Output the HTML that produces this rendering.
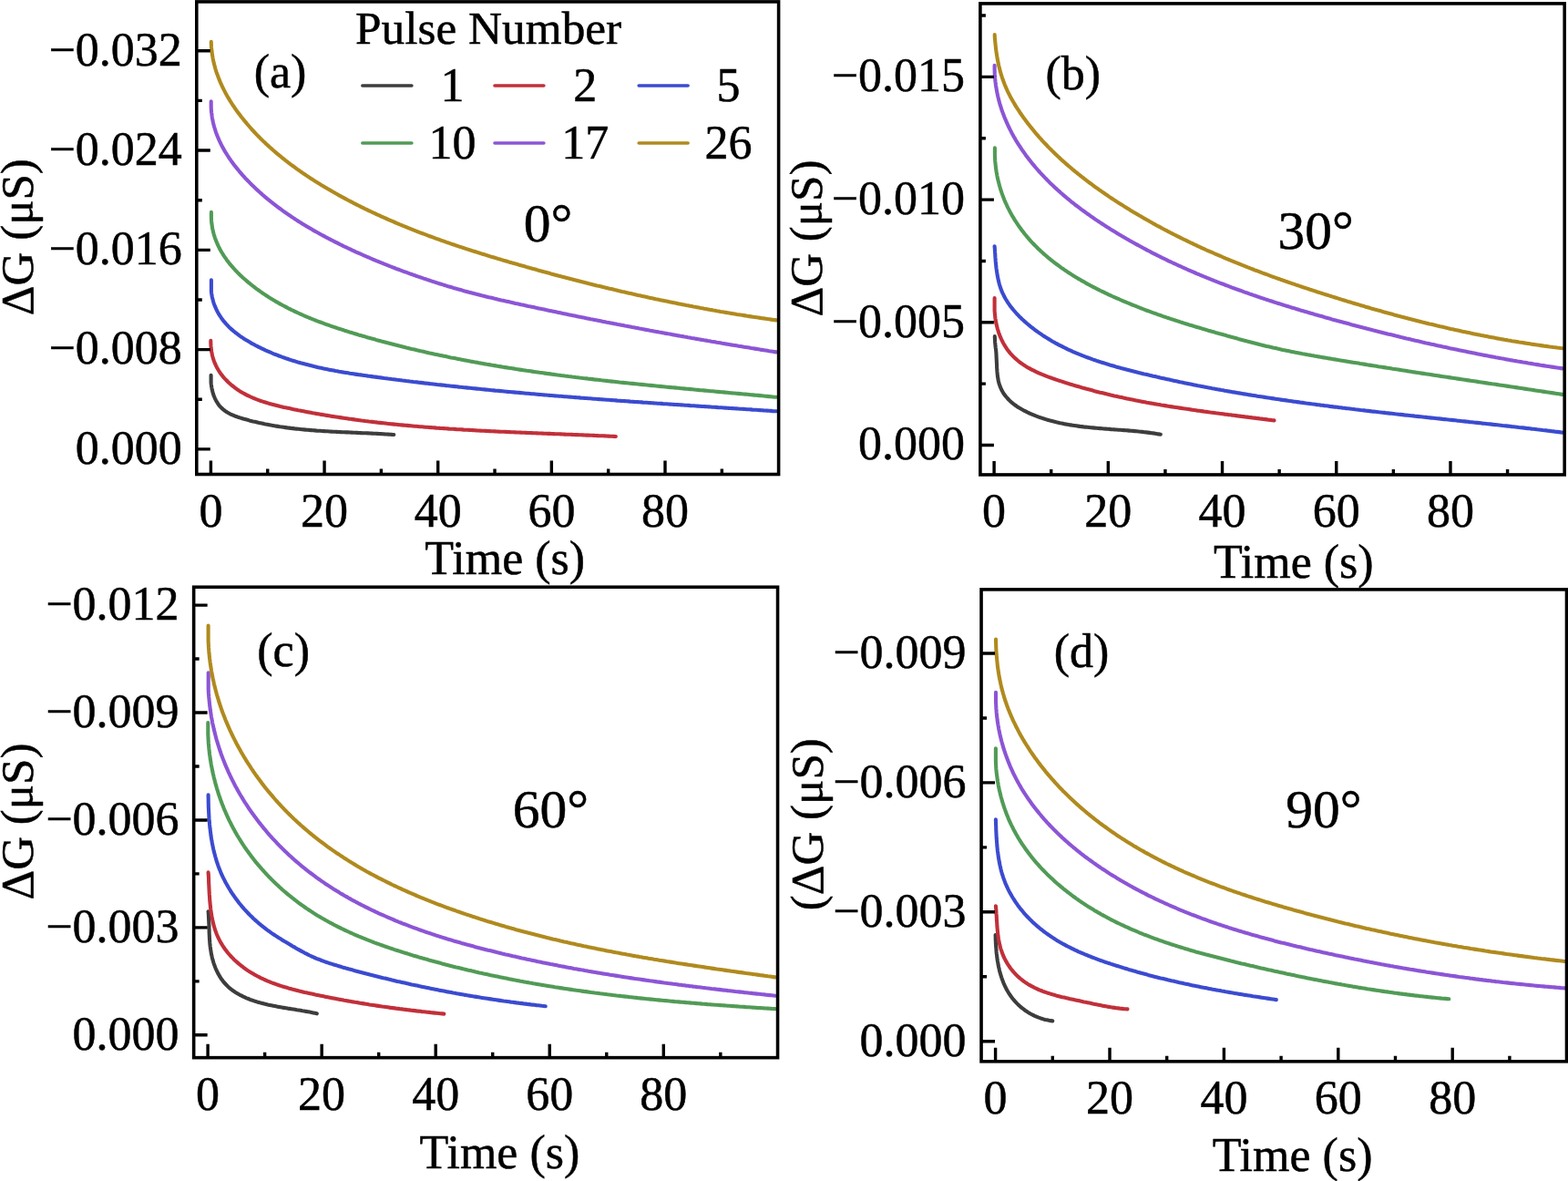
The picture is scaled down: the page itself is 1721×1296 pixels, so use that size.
<!DOCTYPE html><html><head><meta charset="utf-8"><title>Figure</title>
<style>html,body{margin:0;padding:0;background:#fff;overflow:hidden;}svg{display:block;} text{stroke:#000;stroke-width:0.5px;}</style></head><body>
<svg width="1721" height="1296" viewBox="0 0 1721 1296" font-family='"Liberation Serif", serif' fill="#000">
<rect x="0" y="0" width="1721" height="1296" fill="#fff"/>
<path d="M231.6,411.7 L231.6,413.7 L231.6,415.7 L231.6,417.8 L231.6,419.8 L231.8,421.8 L232.1,423.8 L232.4,425.8 L232.8,427.8 L233.3,429.7 L233.8,431.7 L234.4,433.6 L235.2,435.5 L236.0,437.3 L236.9,439.2 L237.9,440.9 L239.0,442.6 L240.1,444.3 L241.4,445.8 L242.8,447.3 L244.2,448.7 L245.8,450.0 L247.4,451.2 L249.1,452.3 L250.8,453.3 L252.6,454.3 L254.5,455.1 L256.3,455.9 L258.2,456.7 L260.1,457.3 L262.0,458.0 L264.0,458.6 L265.9,459.2 L267.8,459.8 L269.8,460.3 L271.7,460.8 L273.7,461.4 L275.6,461.9 L277.6,462.4 L279.6,462.8 L281.5,463.3 L283.5,463.8 L285.5,464.2 L287.4,464.6 L289.4,465.1 L291.4,465.5 L293.4,465.8 L295.4,466.2 L297.4,466.6 L299.3,466.9 L301.3,467.3 L303.3,467.6 L305.3,467.9 L307.3,468.3 L309.3,468.5 L311.3,468.8 L313.3,469.1 L315.3,469.4 L317.3,469.6 L319.3,469.9 L321.4,470.1 L323.4,470.4 L325.4,470.6 L327.4,470.8 L329.4,471.0 L331.4,471.2 L333.4,471.4 L335.4,471.6 L337.4,471.8 L339.5,471.9 L341.5,472.1 L343.5,472.3 L345.5,472.4 L347.5,472.6 L349.5,472.7 L351.5,472.8 L353.6,473.0 L355.6,473.1 L357.6,473.2 L359.6,473.3 L361.6,473.5 L363.7,473.6 L365.7,473.7 L367.7,473.8 L369.7,473.9 L371.7,474.0 L373.7,474.1 L375.8,474.2 L377.8,474.3 L379.8,474.4 L381.8,474.4 L383.8,474.5 L385.9,474.6 L387.9,474.7 L389.9,474.8 L391.9,474.9 L393.9,475.0 L396.0,475.1 L398.0,475.2 L400.0,475.2 L402.0,475.3 L404.0,475.4 L406.1,475.5 L408.1,475.6 L410.1,475.7 L412.1,475.8 L414.1,475.9 L416.2,476.0 L418.2,476.1 L420.2,476.2 L422.2,476.4 L424.2,476.5 L426.2,476.6 L428.3,476.7 L430.3,476.9 L432.3,477.0" fill="none" stroke="#3d3d3d" stroke-width="4.1" stroke-linecap="round" stroke-linejoin="round"/>
<path d="M231.3,373.9 L231.3,375.9 L231.4,377.9 L231.5,379.9 L231.7,381.9 L231.9,383.9 L232.2,385.9 L232.6,387.9 L233.0,389.9 L233.5,391.8 L234.1,393.8 L234.7,395.7 L235.4,397.5 L236.2,399.4 L237.0,401.2 L237.9,403.0 L238.9,404.8 L239.9,406.5 L241.0,408.2 L242.2,409.9 L243.4,411.5 L244.6,413.1 L245.9,414.6 L247.3,416.1 L248.7,417.5 L250.1,419.0 L251.5,420.3 L253.1,421.7 L254.6,423.0 L256.2,424.2 L257.8,425.5 L259.4,426.6 L261.0,427.8 L262.7,428.9 L264.4,429.9 L266.2,431.0 L267.9,431.9 L269.7,432.9 L271.5,433.8 L273.3,434.7 L275.1,435.5 L277.0,436.3 L278.8,437.1 L280.7,437.9 L282.6,438.6 L284.5,439.3 L286.4,440.0 L288.3,440.6 L290.2,441.2 L292.1,441.8 L294.0,442.4 L296.0,443.0 L297.9,443.5 L299.8,444.0 L301.8,444.5 L303.7,445.0 L305.7,445.5 L307.7,446.0 L309.6,446.4 L311.6,446.9 L313.5,447.3 L315.5,447.7 L317.5,448.1 L319.4,448.5 L321.4,449.0 L323.4,449.4 L325.4,449.8 L327.3,450.2 L329.3,450.5 L331.3,450.9 L333.3,451.3 L335.2,451.7 L337.2,452.1 L339.2,452.4 L341.2,452.8 L343.2,453.2 L345.1,453.5 L347.1,453.9 L349.1,454.2 L351.1,454.6 L353.1,454.9 L355.0,455.2 L357.0,455.6 L359.0,455.9 L361.0,456.2 L363.0,456.6 L365.0,456.9 L367.0,457.2 L368.9,457.5 L370.9,457.8 L372.9,458.1 L374.9,458.4 L376.9,458.7 L378.9,459.0 L380.9,459.3 L382.9,459.6 L384.9,459.8 L386.9,460.1 L388.9,460.4 L390.9,460.7 L392.9,460.9 L394.8,461.2 L396.8,461.5 L398.8,461.7 L400.8,462.0 L402.8,462.2 L404.8,462.5 L406.8,462.7 L408.8,462.9 L410.8,463.2 L412.8,463.4 L414.8,463.7 L416.8,463.9 L418.8,464.1 L420.8,464.3 L422.8,464.5 L424.8,464.8 L426.8,465.0 L428.8,465.2 L430.8,465.4 L432.8,465.6 L434.8,465.8 L436.8,466.0 L438.8,466.2 L440.8,466.4 L442.8,466.6 L444.8,466.8 L446.8,466.9 L448.8,467.1 L450.9,467.3 L452.9,467.5 L454.9,467.7 L456.9,467.8 L458.9,468.0 L460.9,468.2 L462.9,468.3 L464.9,468.5 L466.9,468.7 L468.9,468.8 L470.9,469.0 L472.9,469.1 L474.9,469.3 L476.9,469.4 L478.9,469.6 L480.9,469.7 L482.9,469.9 L485.0,470.0 L487.0,470.1 L489.0,470.3 L491.0,470.4 L493.0,470.6 L495.0,470.7 L497.0,470.8 L499.0,470.9 L501.0,471.1 L503.0,471.2 L505.0,471.3 L507.0,471.4 L509.1,471.6 L511.1,471.7 L513.1,471.8 L515.1,471.9 L517.1,472.0 L519.1,472.1 L521.1,472.2 L523.1,472.4 L525.1,472.5 L527.1,472.6 L529.1,472.7 L531.2,472.8 L533.2,472.9 L535.2,473.0 L537.2,473.1 L539.2,473.2 L541.2,473.3 L543.2,473.4 L545.2,473.5 L547.2,473.6 L549.2,473.7 L551.3,473.7 L553.3,473.8 L555.3,473.9 L557.3,474.0 L559.3,474.1 L561.3,474.2 L563.3,474.3 L565.3,474.4 L567.3,474.5 L569.3,474.5 L571.4,474.6 L573.4,474.7 L575.4,474.8 L577.4,474.9 L579.4,475.0 L581.4,475.0 L583.4,475.1 L585.4,475.2 L587.4,475.3 L589.5,475.4 L591.5,475.5 L593.5,475.5 L595.5,475.6 L597.5,475.7 L599.5,475.8 L601.5,475.9 L603.5,475.9 L605.5,476.0 L607.6,476.1 L609.6,476.2 L611.6,476.3 L613.6,476.3 L615.6,476.4 L617.6,476.5 L619.6,476.6 L621.6,476.7 L623.6,476.7 L625.6,476.8 L627.7,476.9 L629.7,477.0 L631.7,477.1 L633.7,477.1 L635.7,477.2 L637.7,477.3 L639.7,477.4 L641.7,477.5 L643.7,477.6 L645.8,477.6 L647.8,477.7 L649.8,477.8 L651.8,477.9 L653.8,478.0 L655.8,478.1 L657.8,478.2 L659.8,478.3 L661.8,478.3 L663.8,478.4 L665.9,478.5 L667.9,478.6 L669.9,478.7 L671.9,478.8 L673.9,478.9 L675.9,479.0" fill="none" stroke="#c1303a" stroke-width="4.1" stroke-linecap="round" stroke-linejoin="round"/>
<path d="M231.9,307.4 L231.9,309.4 L231.9,311.4 L231.9,313.4 L231.9,315.4 L231.9,317.4 L231.9,319.5 L232.1,321.5 L232.4,323.4 L232.7,325.4 L233.2,327.4 L233.7,329.3 L234.2,331.3 L234.8,333.2 L235.5,335.1 L236.3,336.9 L237.1,338.8 L237.9,340.6 L238.9,342.4 L239.8,344.1 L240.9,345.8 L242.0,347.5 L243.1,349.2 L244.3,350.8 L245.5,352.4 L246.8,353.9 L248.1,355.4 L249.5,356.9 L250.9,358.4 L252.3,359.8 L253.8,361.1 L255.3,362.4 L256.8,363.7 L258.4,365.0 L260.0,366.2 L261.6,367.4 L263.2,368.6 L264.9,369.8 L266.6,370.9 L268.2,372.0 L269.9,373.0 L271.7,374.1 L273.4,375.1 L275.1,376.1 L276.9,377.1 L278.7,378.0 L280.4,379.0 L282.2,379.9 L284.0,380.8 L285.8,381.7 L287.6,382.6 L289.4,383.4 L291.3,384.3 L293.1,385.1 L294.9,385.9 L296.8,386.7 L298.6,387.5 L300.5,388.3 L302.3,389.0 L304.2,389.7 L306.1,390.5 L308.0,391.2 L309.9,391.9 L311.7,392.5 L313.6,393.2 L315.5,393.8 L317.5,394.5 L319.4,395.1 L321.3,395.7 L323.2,396.3 L325.1,396.9 L327.0,397.5 L329.0,398.0 L330.9,398.6 L332.8,399.1 L334.8,399.6 L336.7,400.1 L338.7,400.6 L340.6,401.1 L342.6,401.6 L344.5,402.1 L346.5,402.5 L348.4,403.0 L350.4,403.4 L352.4,403.8 L354.3,404.3 L356.3,404.7 L358.3,405.1 L360.2,405.5 L362.2,405.9 L364.2,406.2 L366.2,406.6 L368.1,407.0 L370.1,407.3 L372.1,407.7 L374.1,408.0 L376.0,408.4 L378.0,408.7 L380.0,409.0 L382.0,409.3 L384.0,409.7 L386.0,410.0 L387.9,410.3 L389.9,410.6 L391.9,410.9 L393.9,411.2 L395.9,411.4 L397.9,411.7 L399.9,412.0 L401.9,412.3 L403.9,412.6 L405.8,412.8 L407.8,413.1 L409.8,413.4 L411.8,413.6 L413.8,413.9 L415.8,414.2 L417.8,414.4 L419.8,414.7 L421.8,415.0 L423.8,415.2 L425.8,415.5 L427.8,415.7 L429.7,416.0 L431.7,416.2 L433.7,416.5 L435.7,416.8 L437.7,417.0 L439.7,417.2 L441.7,417.5 L443.7,417.7 L445.7,418.0 L447.7,418.2 L449.7,418.5 L451.7,418.7 L453.7,419.0 L455.7,419.2 L457.7,419.4 L459.7,419.7 L461.7,419.9 L463.6,420.1 L465.6,420.4 L467.6,420.6 L469.6,420.8 L471.6,421.1 L473.6,421.3 L475.6,421.5 L477.6,421.7 L479.6,422.0 L481.6,422.2 L483.6,422.4 L485.6,422.6 L487.6,422.8 L489.6,423.1 L491.6,423.3 L493.6,423.5 L495.6,423.7 L497.6,423.9 L499.6,424.1 L501.6,424.3 L503.6,424.6 L505.6,424.8 L507.6,425.0 L509.6,425.2 L511.6,425.4 L513.6,425.6 L515.6,425.8 L517.6,426.0 L519.6,426.2 L521.6,426.4 L523.6,426.6 L525.6,426.8 L527.6,427.0 L529.6,427.2 L531.6,427.4 L533.6,427.6 L535.6,427.8 L537.6,428.0 L539.6,428.2 L541.6,428.4 L543.6,428.6 L545.6,428.7 L547.6,428.9 L549.6,429.1 L551.6,429.3 L553.6,429.5 L555.6,429.7 L557.6,429.9 L559.6,430.0 L561.6,430.2 L563.6,430.4 L565.6,430.6 L567.6,430.8 L569.6,430.9 L571.6,431.1 L573.6,431.3 L575.6,431.5 L577.6,431.7 L579.6,431.8 L581.6,432.0 L583.6,432.2 L585.6,432.3 L587.6,432.5 L589.6,432.7 L591.6,432.9 L593.6,433.0 L595.6,433.2 L597.6,433.4 L599.6,433.5 L601.6,433.7 L603.6,433.9 L605.6,434.0 L607.6,434.2 L609.6,434.4 L611.6,434.5 L613.6,434.7 L615.6,434.8 L617.6,435.0 L619.6,435.2 L621.6,435.3 L623.6,435.5 L625.6,435.6 L627.6,435.8 L629.6,436.0 L631.6,436.1 L633.6,436.3 L635.6,436.4 L637.6,436.6 L639.6,436.7 L641.7,436.9 L643.7,437.0 L645.7,437.2 L647.7,437.3 L649.7,437.5 L651.7,437.7 L653.7,437.8 L655.7,438.0 L657.7,438.1 L659.7,438.2 L661.7,438.4 L663.7,438.5 L665.7,438.7 L667.7,438.8 L669.7,439.0 L671.7,439.1 L673.7,439.3 L675.7,439.4 L677.7,439.6 L679.7,439.7 L681.7,439.9 L683.7,440.0 L685.7,440.1 L687.7,440.3 L689.7,440.4 L691.7,440.6 L693.7,440.7 L695.7,440.9 L697.8,441.0 L699.8,441.1 L701.8,441.3 L703.8,441.4 L705.8,441.6 L707.8,441.7 L709.8,441.8 L711.8,442.0 L713.8,442.1 L715.8,442.2 L717.8,442.4 L719.8,442.5 L721.8,442.7 L723.8,442.8 L725.8,442.9 L727.8,443.1 L729.8,443.2 L731.8,443.3 L733.8,443.5 L735.8,443.6 L737.8,443.7 L739.8,443.9 L741.8,444.0 L743.9,444.1 L745.9,444.3 L747.9,444.4 L749.9,444.5 L751.9,444.7 L753.9,444.8 L755.9,444.9 L757.9,445.1 L759.9,445.2 L761.9,445.3 L763.9,445.5 L765.9,445.6 L767.9,445.7 L769.9,445.9 L771.9,446.0 L773.9,446.1 L775.9,446.3 L777.9,446.4 L779.9,446.5 L781.9,446.7 L783.9,446.8 L786.0,446.9 L788.0,447.1 L790.0,447.2 L792.0,447.3 L794.0,447.5 L796.0,447.6 L798.0,447.7 L800.0,447.9 L802.0,448.0 L804.0,448.1 L806.0,448.3 L808.0,448.4 L810.0,448.5 L812.0,448.7 L814.0,448.8 L816.0,448.9 L818.0,449.0 L820.0,449.2 L822.0,449.3 L824.0,449.4 L826.0,449.6 L828.0,449.7 L830.1,449.8 L832.1,450.0 L834.1,450.1 L836.1,450.2 L838.1,450.4 L840.1,450.5 L842.1,450.6 L844.1,450.8 L846.1,450.9 L848.1,451.1 L850.1,451.2 L852.1,451.3" fill="none" stroke="#3b4bd0" stroke-width="4.1" stroke-linecap="round" stroke-linejoin="round"/>
<path d="M231.9,232.9 L231.9,234.9 L231.9,236.9 L231.9,238.9 L232.0,240.9 L232.1,242.9 L232.3,244.9 L232.6,246.9 L232.9,248.9 L233.2,250.9 L233.7,252.9 L234.1,254.8 L234.6,256.8 L235.2,258.7 L235.8,260.6 L236.5,262.5 L237.2,264.4 L238.0,266.3 L238.8,268.1 L239.6,269.9 L240.5,271.7 L241.4,273.5 L242.4,275.3 L243.4,277.0 L244.5,278.7 L245.5,280.4 L246.7,282.1 L247.8,283.7 L249.0,285.4 L250.2,287.0 L251.4,288.6 L252.7,290.1 L254.0,291.7 L255.3,293.2 L256.6,294.7 L258.0,296.2 L259.4,297.6 L260.8,299.1 L262.2,300.5 L263.6,301.9 L265.1,303.3 L266.6,304.7 L268.1,306.0 L269.6,307.3 L271.1,308.6 L272.6,309.9 L274.2,311.2 L275.8,312.5 L277.3,313.7 L278.9,314.9 L280.5,316.2 L282.1,317.4 L283.8,318.5 L285.4,319.7 L287.1,320.9 L288.7,322.0 L290.4,323.1 L292.1,324.2 L293.7,325.3 L295.4,326.4 L297.1,327.5 L298.9,328.5 L300.6,329.6 L302.3,330.6 L304.1,331.6 L305.8,332.6 L307.6,333.6 L309.3,334.5 L311.1,335.5 L312.9,336.4 L314.7,337.4 L316.4,338.3 L318.2,339.2 L320.0,340.1 L321.9,340.9 L323.7,341.8 L325.5,342.7 L327.3,343.5 L329.1,344.3 L331.0,345.2 L332.8,346.0 L334.7,346.8 L336.5,347.6 L338.4,348.3 L340.2,349.1 L342.1,349.9 L344.0,350.6 L345.8,351.3 L347.7,352.1 L349.6,352.8 L351.5,353.5 L353.4,354.2 L355.2,354.9 L357.1,355.6 L359.0,356.3 L360.9,356.9 L362.8,357.6 L364.7,358.3 L366.6,358.9 L368.5,359.5 L370.4,360.2 L372.3,360.8 L374.3,361.4 L376.2,362.0 L378.1,362.7 L380.0,363.3 L381.9,363.9 L383.8,364.5 L385.8,365.0 L387.7,365.6 L389.6,366.2 L391.5,366.8 L393.5,367.4 L395.4,367.9 L397.3,368.5 L399.3,369.1 L401.2,369.6 L403.1,370.2 L405.1,370.7 L407.0,371.3 L408.9,371.8 L410.9,372.3 L412.8,372.9 L414.7,373.4 L416.7,373.9 L418.6,374.5 L420.6,375.0 L422.5,375.5 L424.5,376.0 L426.4,376.5 L428.3,377.0 L430.3,377.5 L432.2,378.0 L434.2,378.5 L436.1,379.0 L438.1,379.5 L440.0,380.0 L442.0,380.5 L443.9,381.0 L445.9,381.5 L447.9,381.9 L449.8,382.4 L451.8,382.9 L453.7,383.3 L455.7,383.8 L457.6,384.3 L459.6,384.7 L461.6,385.2 L463.5,385.6 L465.5,386.0 L467.4,386.5 L469.4,386.9 L471.4,387.4 L473.3,387.8 L475.3,388.2 L477.3,388.7 L479.2,389.1 L481.2,389.5 L483.2,389.9 L485.1,390.3 L487.1,390.7 L489.1,391.1 L491.0,391.5 L493.0,392.0 L495.0,392.4 L496.9,392.7 L498.9,393.1 L500.9,393.5 L502.9,393.9 L504.8,394.3 L506.8,394.7 L508.8,395.1 L510.8,395.4 L512.7,395.8 L514.7,396.2 L516.7,396.6 L518.7,396.9 L520.6,397.3 L522.6,397.6 L524.6,398.0 L526.6,398.4 L528.6,398.7 L530.5,399.1 L532.5,399.4 L534.5,399.8 L536.5,400.1 L538.5,400.4 L540.4,400.8 L542.4,401.1 L544.4,401.4 L546.4,401.8 L548.4,402.1 L550.4,402.4 L552.3,402.8 L554.3,403.1 L556.3,403.4 L558.3,403.7 L560.3,404.0 L562.3,404.3 L564.3,404.6 L566.3,405.0 L568.2,405.3 L570.2,405.6 L572.2,405.9 L574.2,406.2 L576.2,406.5 L578.2,406.8 L580.2,407.0 L582.2,407.3 L584.2,407.6 L586.1,407.9 L588.1,408.2 L590.1,408.5 L592.1,408.8 L594.1,409.0 L596.1,409.3 L598.1,409.6 L600.1,409.9 L602.1,410.1 L604.1,410.4 L606.1,410.7 L608.1,410.9 L610.0,411.2 L612.0,411.5 L614.0,411.7 L616.0,412.0 L618.0,412.2 L620.0,412.5 L622.0,412.7 L624.0,413.0 L626.0,413.2 L628.0,413.5 L630.0,413.7 L632.0,414.0 L634.0,414.2 L636.0,414.5 L638.0,414.7 L640.0,415.0 L642.0,415.2 L644.0,415.4 L646.0,415.7 L648.0,415.9 L650.0,416.1 L652.0,416.4 L654.0,416.6 L656.0,416.8 L658.0,417.0 L660.0,417.3 L662.0,417.5 L663.9,417.7 L665.9,417.9 L667.9,418.2 L669.9,418.4 L671.9,418.6 L673.9,418.8 L675.9,419.0 L677.9,419.2 L679.9,419.5 L681.9,419.7 L683.9,419.9 L685.9,420.1 L687.9,420.3 L689.9,420.5 L691.9,420.7 L693.9,420.9 L695.9,421.1 L697.9,421.3 L699.9,421.5 L701.9,421.7 L703.9,421.9 L705.9,422.1 L707.9,422.3 L709.9,422.5 L711.9,422.7 L713.9,422.9 L716.0,423.1 L718.0,423.3 L720.0,423.5 L722.0,423.7 L724.0,423.9 L726.0,424.1 L728.0,424.3 L730.0,424.5 L732.0,424.7 L734.0,424.9 L736.0,425.1 L738.0,425.3 L740.0,425.4 L742.0,425.6 L744.0,425.8 L746.0,426.0 L748.0,426.2 L750.0,426.4 L752.0,426.6 L754.0,426.8 L756.0,426.9 L758.0,427.1 L760.0,427.3 L762.0,427.5 L764.0,427.7 L766.0,427.9 L768.0,428.1 L770.0,428.2 L772.0,428.4 L774.0,428.6 L776.0,428.8 L778.0,429.0 L780.0,429.2 L782.0,429.3 L784.0,429.5 L786.0,429.7 L788.0,429.9 L790.0,430.1 L792.0,430.3 L794.0,430.4 L796.0,430.6 L798.0,430.8 L800.0,431.0 L802.0,431.2 L804.0,431.4 L806.0,431.5 L808.1,431.7 L810.1,431.9 L812.1,432.1 L814.1,432.3 L816.1,432.5 L818.1,432.6 L820.1,432.8 L822.1,433.0 L824.1,433.2 L826.1,433.4 L828.1,433.6 L830.1,433.8 L832.1,433.9 L834.1,434.1 L836.1,434.3 L838.1,434.5 L840.1,434.7 L842.1,434.9 L844.1,435.1 L846.1,435.3 L848.1,435.5 L850.1,435.7 L852.1,435.8" fill="none" stroke="#519b56" stroke-width="4.1" stroke-linecap="round" stroke-linejoin="round"/>
<path d="M231.7,111.3 L231.7,113.3 L231.7,115.3 L231.7,117.3 L231.8,119.3 L231.9,121.3 L232.1,123.3 L232.4,125.3 L232.6,127.3 L232.9,129.3 L233.3,131.3 L233.7,133.3 L234.1,135.2 L234.6,137.2 L235.1,139.1 L235.7,141.0 L236.3,142.9 L236.9,144.9 L237.6,146.7 L238.3,148.6 L239.1,150.5 L239.9,152.3 L240.7,154.2 L241.5,156.0 L242.4,157.8 L243.3,159.6 L244.2,161.4 L245.2,163.1 L246.2,164.9 L247.2,166.6 L248.3,168.3 L249.3,170.0 L250.4,171.7 L251.5,173.4 L252.7,175.0 L253.8,176.7 L255.0,178.3 L256.2,179.9 L257.4,181.5 L258.7,183.1 L259.9,184.7 L261.2,186.2 L262.5,187.8 L263.8,189.3 L265.1,190.8 L266.4,192.3 L267.8,193.8 L269.1,195.3 L270.5,196.8 L271.9,198.2 L273.3,199.6 L274.7,201.1 L276.1,202.5 L277.6,203.9 L279.0,205.3 L280.5,206.7 L281.9,208.1 L283.4,209.4 L284.9,210.8 L286.4,212.1 L287.9,213.5 L289.4,214.8 L290.9,216.1 L292.5,217.4 L294.0,218.7 L295.6,219.9 L297.1,221.2 L298.7,222.4 L300.3,223.7 L301.9,224.9 L303.5,226.1 L305.1,227.3 L306.7,228.5 L308.3,229.7 L309.9,230.9 L311.6,232.1 L313.2,233.2 L314.8,234.4 L316.5,235.5 L318.2,236.7 L319.8,237.8 L321.5,238.9 L323.2,240.0 L324.9,241.1 L326.6,242.2 L328.2,243.3 L329.9,244.3 L331.7,245.4 L333.4,246.4 L335.1,247.5 L336.8,248.5 L338.5,249.5 L340.3,250.6 L342.0,251.6 L343.7,252.6 L345.5,253.6 L347.2,254.5 L349.0,255.5 L350.8,256.5 L352.5,257.5 L354.3,258.4 L356.1,259.4 L357.8,260.3 L359.6,261.2 L361.4,262.2 L363.2,263.1 L365.0,264.0 L366.7,264.9 L368.5,265.8 L370.3,266.7 L372.1,267.6 L373.9,268.5 L375.7,269.4 L377.5,270.3 L379.4,271.1 L381.2,272.0 L383.0,272.9 L384.8,273.7 L386.6,274.6 L388.4,275.4 L390.3,276.3 L392.1,277.1 L393.9,277.9 L395.8,278.7 L397.6,279.5 L399.4,280.4 L401.3,281.2 L403.1,282.0 L405.0,282.7 L406.8,283.5 L408.7,284.3 L410.5,285.1 L412.4,285.9 L414.2,286.6 L416.1,287.4 L418.0,288.2 L419.8,288.9 L421.7,289.7 L423.5,290.4 L425.4,291.1 L427.3,291.9 L429.2,292.6 L431.0,293.3 L432.9,294.0 L434.8,294.8 L436.7,295.5 L438.5,296.2 L440.4,296.9 L442.3,297.6 L444.2,298.3 L446.1,298.9 L448.0,299.6 L449.9,300.3 L451.8,301.0 L453.7,301.7 L455.6,302.3 L457.4,303.0 L459.3,303.6 L461.2,304.3 L463.1,304.9 L465.0,305.6 L467.0,306.2 L468.9,306.9 L470.8,307.5 L472.7,308.1 L474.6,308.8 L476.5,309.4 L478.4,310.0 L480.3,310.6 L482.2,311.2 L484.1,311.8 L486.1,312.4 L488.0,313.0 L489.9,313.6 L491.8,314.2 L493.8,314.7 L495.7,315.3 L497.6,315.9 L499.5,316.4 L501.5,317.0 L503.4,317.6 L505.3,318.1 L507.3,318.6 L509.2,319.2 L511.1,319.7 L513.1,320.2 L515.0,320.8 L517.0,321.3 L518.9,321.8 L520.8,322.3 L522.8,322.8 L524.7,323.3 L526.7,323.8 L528.6,324.3 L530.6,324.7 L532.5,325.2 L534.5,325.7 L536.4,326.2 L538.4,326.6 L540.4,327.1 L542.3,327.6 L544.3,328.0 L546.2,328.5 L548.2,328.9 L550.1,329.4 L552.1,329.8 L554.1,330.3 L556.0,330.7 L558.0,331.1 L559.9,331.6 L561.9,332.0 L563.9,332.4 L565.8,332.9 L567.8,333.3 L569.7,333.7 L571.7,334.2 L573.7,334.6 L575.6,335.0 L577.6,335.4 L579.6,335.9 L581.5,336.3 L583.5,336.7 L585.5,337.1 L587.4,337.6 L589.4,338.0 L591.3,338.4 L593.3,338.8 L595.3,339.2 L597.2,339.6 L599.2,340.1 L601.2,340.5 L603.1,340.9 L605.1,341.3 L607.1,341.7 L609.0,342.1 L611.0,342.5 L613.0,342.9 L614.9,343.3 L616.9,343.8 L618.9,344.2 L620.8,344.6 L622.8,345.0 L624.8,345.4 L626.7,345.8 L628.7,346.2 L630.7,346.6 L632.6,347.0 L634.6,347.4 L636.6,347.8 L638.6,348.2 L640.5,348.6 L642.5,349.0 L644.5,349.4 L646.4,349.8 L648.4,350.2 L650.4,350.5 L652.3,350.9 L654.3,351.3 L656.3,351.7 L658.3,352.1 L660.2,352.5 L662.2,352.9 L664.2,353.3 L666.1,353.7 L668.1,354.0 L670.1,354.4 L672.1,354.8 L674.0,355.2 L676.0,355.6 L678.0,356.0 L679.9,356.3 L681.9,356.7 L683.9,357.1 L685.9,357.5 L687.8,357.8 L689.8,358.2 L691.8,358.6 L693.8,359.0 L695.7,359.3 L697.7,359.7 L699.7,360.1 L701.7,360.5 L703.6,360.8 L705.6,361.2 L707.6,361.6 L709.6,361.9 L711.5,362.3 L713.5,362.7 L715.5,363.0 L717.5,363.4 L719.4,363.8 L721.4,364.1 L723.4,364.5 L725.4,364.8 L727.3,365.2 L729.3,365.6 L731.3,365.9 L733.3,366.3 L735.2,366.6 L737.2,367.0 L739.2,367.4 L741.2,367.7 L743.1,368.1 L745.1,368.4 L747.1,368.8 L749.1,369.1 L751.1,369.5 L753.0,369.8 L755.0,370.2 L757.0,370.5 L759.0,370.9 L760.9,371.2 L762.9,371.6 L764.9,371.9 L766.9,372.3 L768.9,372.6 L770.8,372.9 L772.8,373.3 L774.8,373.6 L776.8,374.0 L778.8,374.3 L780.7,374.7 L782.7,375.0 L784.7,375.3 L786.7,375.7 L788.7,376.0 L790.6,376.3 L792.6,376.7 L794.6,377.0 L796.6,377.4 L798.6,377.7 L800.5,378.0 L802.5,378.4 L804.5,378.7 L806.5,379.0 L808.5,379.3 L810.5,379.7 L812.4,380.0 L814.4,380.3 L816.4,380.7 L818.4,381.0 L820.4,381.3 L822.3,381.6 L824.3,382.0 L826.3,382.3 L828.3,382.6 L830.3,382.9 L832.3,383.2 L834.2,383.6 L836.2,383.9 L838.2,384.2 L840.2,384.5 L842.2,384.8 L844.2,385.2 L846.1,385.5 L848.1,385.8 L850.1,386.1 L852.1,386.4" fill="none" stroke="#8c55d6" stroke-width="4.1" stroke-linecap="round" stroke-linejoin="round"/>
<path d="M231.8,45.9 L231.8,47.9 L231.9,49.9 L232.0,51.9 L232.2,53.9 L232.4,55.9 L232.7,57.9 L232.9,59.9 L233.3,61.9 L233.6,63.8 L234.0,65.8 L234.4,67.8 L234.9,69.7 L235.4,71.7 L235.9,73.6 L236.4,75.5 L237.0,77.4 L237.6,79.4 L238.3,81.3 L239.0,83.1 L239.7,85.0 L240.4,86.9 L241.2,88.7 L241.9,90.6 L242.8,92.4 L243.6,94.2 L244.5,96.1 L245.4,97.9 L246.3,99.6 L247.2,101.4 L248.2,103.2 L249.1,104.9 L250.1,106.7 L251.2,108.4 L252.2,110.1 L253.3,111.8 L254.3,113.5 L255.4,115.2 L256.6,116.8 L257.7,118.5 L258.8,120.1 L260.0,121.8 L261.2,123.4 L262.4,125.0 L263.6,126.6 L264.8,128.2 L266.1,129.8 L267.3,131.3 L268.6,132.9 L269.9,134.4 L271.2,136.0 L272.5,137.5 L273.8,139.0 L275.1,140.5 L276.4,142.0 L277.8,143.5 L279.2,145.0 L280.5,146.4 L281.9,147.9 L283.3,149.3 L284.7,150.7 L286.1,152.2 L287.6,153.6 L289.0,155.0 L290.5,156.3 L291.9,157.7 L293.4,159.1 L294.9,160.4 L296.4,161.8 L297.9,163.1 L299.4,164.5 L300.9,165.8 L302.4,167.1 L303.9,168.4 L305.5,169.7 L307.0,170.9 L308.6,172.2 L310.1,173.5 L311.7,174.7 L313.3,176.0 L314.8,177.2 L316.4,178.4 L318.0,179.6 L319.6,180.8 L321.3,182.0 L322.9,183.2 L324.5,184.4 L326.1,185.6 L327.8,186.7 L329.4,187.9 L331.0,189.0 L332.7,190.2 L334.4,191.3 L336.0,192.4 L337.7,193.5 L339.4,194.6 L341.0,195.7 L342.7,196.8 L344.4,197.9 L346.1,199.0 L347.8,200.0 L349.5,201.1 L351.2,202.1 L352.9,203.2 L354.7,204.2 L356.4,205.3 L358.1,206.3 L359.8,207.3 L361.6,208.3 L363.3,209.3 L365.0,210.3 L366.8,211.3 L368.5,212.3 L370.3,213.3 L372.0,214.3 L373.8,215.2 L375.5,216.2 L377.3,217.1 L379.1,218.1 L380.8,219.0 L382.6,220.0 L384.4,220.9 L386.2,221.8 L387.9,222.8 L389.7,223.7 L391.5,224.6 L393.3,225.5 L395.1,226.4 L396.9,227.3 L398.7,228.2 L400.5,229.1 L402.3,229.9 L404.1,230.8 L405.9,231.7 L407.7,232.5 L409.5,233.4 L411.4,234.2 L413.2,235.1 L415.0,235.9 L416.8,236.7 L418.7,237.6 L420.5,238.4 L422.3,239.2 L424.2,240.0 L426.0,240.8 L427.8,241.6 L429.7,242.4 L431.5,243.2 L433.4,244.0 L435.2,244.8 L437.1,245.6 L438.9,246.4 L440.8,247.1 L442.6,247.9 L444.5,248.6 L446.3,249.4 L448.2,250.2 L450.0,250.9 L451.9,251.6 L453.8,252.4 L455.6,253.1 L457.5,253.8 L459.4,254.6 L461.3,255.3 L463.1,256.0 L465.0,256.7 L466.9,257.4 L468.8,258.1 L470.6,258.8 L472.5,259.5 L474.4,260.2 L476.3,260.9 L478.2,261.6 L480.1,262.3 L482.0,262.9 L483.8,263.6 L485.7,264.3 L487.6,264.9 L489.5,265.6 L491.4,266.3 L493.3,266.9 L495.2,267.6 L497.1,268.2 L499.0,268.8 L500.9,269.5 L502.8,270.1 L504.7,270.8 L506.6,271.4 L508.5,272.0 L510.4,272.6 L512.3,273.3 L514.2,273.9 L516.2,274.5 L518.1,275.1 L520.0,275.7 L521.9,276.3 L523.8,276.9 L525.7,277.5 L527.6,278.1 L529.5,278.7 L531.5,279.3 L533.4,279.9 L535.3,280.5 L537.2,281.1 L539.1,281.7 L541.1,282.2 L543.0,282.8 L544.9,283.4 L546.8,284.0 L548.7,284.5 L550.7,285.1 L552.6,285.7 L554.5,286.2 L556.4,286.8 L558.4,287.4 L560.3,287.9 L562.2,288.5 L564.1,289.0 L566.1,289.6 L568.0,290.1 L569.9,290.7 L571.9,291.3 L573.8,291.8 L575.7,292.3 L577.7,292.9 L579.6,293.4 L581.5,294.0 L583.4,294.5 L585.4,295.1 L587.3,295.6 L589.2,296.1 L591.2,296.7 L593.1,297.2 L595.0,297.7 L597.0,298.3 L598.9,298.8 L600.9,299.3 L602.8,299.8 L604.7,300.4 L606.7,300.9 L608.6,301.4 L610.5,301.9 L612.5,302.4 L614.4,302.9 L616.4,303.5 L618.3,304.0 L620.2,304.5 L622.2,305.0 L624.1,305.5 L626.1,306.0 L628.0,306.5 L629.9,307.0 L631.9,307.5 L633.8,308.0 L635.8,308.5 L637.7,309.0 L639.7,309.5 L641.6,310.0 L643.6,310.5 L645.5,311.0 L647.4,311.4 L649.4,311.9 L651.3,312.4 L653.3,312.9 L655.2,313.4 L657.2,313.8 L659.1,314.3 L661.1,314.8 L663.0,315.3 L665.0,315.7 L666.9,316.2 L668.9,316.7 L670.8,317.1 L672.8,317.6 L674.7,318.1 L676.7,318.5 L678.6,319.0 L680.6,319.4 L682.5,319.9 L684.5,320.3 L686.5,320.8 L688.4,321.2 L690.4,321.7 L692.3,322.1 L694.3,322.6 L696.2,323.0 L698.2,323.4 L700.2,323.9 L702.1,324.3 L704.1,324.8 L706.0,325.2 L708.0,325.6 L709.9,326.0 L711.9,326.5 L713.9,326.9 L715.8,327.3 L717.8,327.7 L719.8,328.2 L721.7,328.6 L723.7,329.0 L725.6,329.4 L727.6,329.8 L729.6,330.2 L731.5,330.6 L733.5,331.0 L735.5,331.4 L737.4,331.8 L739.4,332.2 L741.4,332.6 L743.3,333.0 L745.3,333.4 L747.3,333.8 L749.2,334.2 L751.2,334.6 L753.2,335.0 L755.1,335.3 L757.1,335.7 L759.1,336.1 L761.0,336.5 L763.0,336.8 L765.0,337.2 L767.0,337.6 L768.9,338.0 L770.9,338.3 L772.9,338.7 L774.9,339.0 L776.8,339.4 L778.8,339.8 L780.8,340.1 L782.7,340.5 L784.7,340.8 L786.7,341.2 L788.7,341.5 L790.7,341.9 L792.6,342.2 L794.6,342.5 L796.6,342.9 L798.6,343.2 L800.5,343.5 L802.5,343.9 L804.5,344.2 L806.5,344.5 L808.5,344.9 L810.4,345.2 L812.4,345.5 L814.4,345.8 L816.4,346.1 L818.4,346.4 L820.3,346.8 L822.3,347.1 L824.3,347.4 L826.3,347.7 L828.3,348.0 L830.3,348.3 L832.2,348.6 L834.2,348.9 L836.2,349.2 L838.2,349.4 L840.2,349.7 L842.2,350.0 L844.1,350.3 L846.1,350.6 L848.1,350.9 L850.1,351.1 L852.1,351.4" fill="none" stroke="#b08a1e" stroke-width="4.1" stroke-linecap="round" stroke-linejoin="round"/>
<path d="M231.40,520.50V505.50M293.73,520.50V514.50M356.05,520.50V505.50M418.38,520.50V514.50M480.70,520.50V505.50M543.02,520.50V514.50M605.35,520.50V505.50M667.67,520.50V514.50M730.00,520.50V505.50M792.32,520.50V514.50M215.80,492.90H230.80M215.80,383.62H230.80M215.80,274.34H230.80M215.80,165.06H230.80M215.80,55.78H230.80M215.80,438.26H221.80M215.80,328.98H221.80M215.80,219.70H221.80M215.80,110.42H221.80" stroke="#000" stroke-width="3.4" fill="none"/>
<rect x="215.8" y="1.9" width="638.80" height="518.60" fill="none" stroke="#000" stroke-width="3.6"/>
<text x="199.8" y="508.7" font-size="52" text-anchor="end">0.000</text>
<text x="199.8" y="399.4" font-size="52" text-anchor="end">−0.008</text>
<text x="199.8" y="290.1" font-size="52" text-anchor="end">−0.016</text>
<text x="199.8" y="180.9" font-size="52" text-anchor="end">−0.024</text>
<text x="199.8" y="71.6" font-size="52" text-anchor="end">−0.032</text>
<text x="231.4" y="577.5" font-size="52" text-anchor="middle">0</text>
<text x="356.1" y="577.5" font-size="52" text-anchor="middle">20</text>
<text x="480.7" y="577.5" font-size="52" text-anchor="middle">40</text>
<text x="605.4" y="577.5" font-size="52" text-anchor="middle">60</text>
<text x="730.0" y="577.5" font-size="52" text-anchor="middle">80</text>
<text x="466.3" y="630.1" font-size="52">Time (s)</text>
<text transform="translate(36.4,346.2) rotate(-90)" font-size="51">ΔG (μS)</text>
<text x="278.7" y="95.9" font-size="52">(a)</text>
<text x="574.8" y="265.1" font-size="59.5">0°</text>
<path d="M1091.8,369.1 L1091.9,371.1 L1092.0,373.1 L1092.1,375.2 L1092.3,377.2 L1092.5,379.2 L1092.7,381.2 L1093.0,383.2 L1093.2,385.2 L1093.4,387.2 L1093.5,389.2 L1093.6,391.3 L1093.7,393.3 L1093.8,395.3 L1093.9,397.3 L1094.0,399.3 L1094.1,401.4 L1094.1,403.4 L1094.3,405.4 L1094.4,407.4 L1094.6,409.4 L1094.8,411.4 L1095.0,413.4 L1095.4,415.4 L1095.7,417.4 L1096.2,419.4 L1096.7,421.4 L1097.4,423.3 L1098.1,425.2 L1098.9,427.0 L1099.8,428.8 L1100.8,430.6 L1101.9,432.3 L1103.1,433.9 L1104.4,435.5 L1105.7,437.0 L1107.1,438.5 L1108.5,439.9 L1110.0,441.3 L1111.6,442.6 L1113.2,443.8 L1114.8,445.0 L1116.4,446.2 L1118.1,447.3 L1119.9,448.3 L1121.6,449.3 L1123.4,450.3 L1125.2,451.2 L1127.0,452.1 L1128.8,453.0 L1130.7,453.8 L1132.5,454.6 L1134.4,455.4 L1136.3,456.2 L1138.1,456.9 L1140.0,457.6 L1142.0,458.3 L1143.9,458.9 L1145.8,459.5 L1147.7,460.1 L1149.7,460.7 L1151.6,461.3 L1153.5,461.8 L1155.5,462.3 L1157.5,462.8 L1159.4,463.3 L1161.4,463.7 L1163.4,464.2 L1165.4,464.6 L1167.3,465.0 L1169.3,465.4 L1171.3,465.7 L1173.3,466.1 L1175.3,466.4 L1177.3,466.7 L1179.3,467.0 L1181.3,467.3 L1183.3,467.6 L1185.3,467.9 L1187.3,468.1 L1189.3,468.4 L1191.3,468.6 L1193.3,468.8 L1195.3,469.0 L1197.4,469.2 L1199.4,469.4 L1201.4,469.6 L1203.4,469.8 L1205.4,470.0 L1207.4,470.1 L1209.4,470.3 L1211.5,470.5 L1213.5,470.6 L1215.5,470.8 L1217.5,470.9 L1219.5,471.1 L1221.5,471.2 L1223.6,471.4 L1225.6,471.5 L1227.6,471.7 L1229.6,471.8 L1231.6,472.0 L1233.6,472.1 L1235.7,472.3 L1237.7,472.4 L1239.7,472.6 L1241.7,472.8 L1243.7,472.9 L1245.7,473.1 L1247.7,473.3 L1249.7,473.5 L1251.8,473.7 L1253.8,473.9 L1255.8,474.2 L1257.8,474.4 L1259.8,474.6 L1261.8,474.9 L1263.8,475.2 L1265.8,475.4 L1267.8,475.7 L1269.8,476.1 L1271.8,476.4 L1273.8,476.7" fill="none" stroke="#3d3d3d" stroke-width="4.1" stroke-linecap="round" stroke-linejoin="round"/>
<path d="M1091.6,327.0 L1091.6,329.0 L1091.6,331.0 L1091.6,333.1 L1091.6,335.1 L1091.6,337.1 L1091.6,339.1 L1091.6,341.1 L1091.8,343.1 L1092.0,345.2 L1092.2,347.2 L1092.4,349.2 L1092.7,351.2 L1093.1,353.1 L1093.4,355.1 L1093.9,357.1 L1094.4,359.1 L1094.9,361.0 L1095.5,362.9 L1096.1,364.9 L1096.8,366.8 L1097.5,368.6 L1098.3,370.5 L1099.1,372.3 L1100.0,374.2 L1100.9,376.0 L1101.9,377.7 L1102.9,379.4 L1104.0,381.2 L1105.1,382.8 L1106.3,384.5 L1107.6,386.1 L1108.8,387.6 L1110.2,389.1 L1111.6,390.6 L1113.0,392.0 L1114.5,393.4 L1116.0,394.7 L1117.5,396.0 L1119.1,397.3 L1120.7,398.5 L1122.4,399.6 L1124.1,400.8 L1125.8,401.9 L1127.5,402.9 L1129.2,403.9 L1131.0,404.9 L1132.8,405.8 L1134.6,406.7 L1136.4,407.6 L1138.2,408.5 L1140.1,409.3 L1141.9,410.1 L1143.8,410.9 L1145.7,411.6 L1147.5,412.4 L1149.4,413.1 L1151.3,413.8 L1153.2,414.5 L1155.1,415.2 L1157.0,415.8 L1158.9,416.5 L1160.8,417.1 L1162.7,417.8 L1164.7,418.4 L1166.6,419.0 L1168.5,419.6 L1170.4,420.3 L1172.4,420.9 L1174.3,421.5 L1176.2,422.0 L1178.1,422.6 L1180.1,423.2 L1182.0,423.8 L1184.0,424.3 L1185.9,424.9 L1187.8,425.5 L1189.8,426.0 L1191.7,426.5 L1193.7,427.1 L1195.6,427.6 L1197.6,428.1 L1199.5,428.6 L1201.5,429.2 L1203.4,429.7 L1205.4,430.2 L1207.3,430.7 L1209.3,431.1 L1211.3,431.6 L1213.2,432.1 L1215.2,432.6 L1217.1,433.0 L1219.1,433.5 L1221.1,433.9 L1223.0,434.4 L1225.0,434.8 L1227.0,435.3 L1229.0,435.7 L1230.9,436.1 L1232.9,436.6 L1234.9,437.0 L1236.8,437.4 L1238.8,437.8 L1240.8,438.2 L1242.8,438.6 L1244.8,439.0 L1246.7,439.4 L1248.7,439.8 L1250.7,440.2 L1252.7,440.6 L1254.7,440.9 L1256.6,441.3 L1258.6,441.7 L1260.6,442.0 L1262.6,442.4 L1264.6,442.7 L1266.6,443.1 L1268.6,443.4 L1270.6,443.8 L1272.5,444.1 L1274.5,444.5 L1276.5,444.8 L1278.5,445.1 L1280.5,445.4 L1282.5,445.8 L1284.5,446.1 L1286.5,446.4 L1288.5,446.7 L1290.5,447.0 L1292.5,447.3 L1294.5,447.6 L1296.5,447.9 L1298.5,448.2 L1300.5,448.5 L1302.5,448.8 L1304.4,449.1 L1306.4,449.4 L1308.4,449.7 L1310.4,450.0 L1312.4,450.3 L1314.4,450.6 L1316.4,450.8 L1318.4,451.1 L1320.4,451.4 L1322.4,451.7 L1324.4,451.9 L1326.4,452.2 L1328.4,452.5 L1330.4,452.7 L1332.4,453.0 L1334.4,453.3 L1336.4,453.5 L1338.4,453.8 L1340.4,454.0 L1342.4,454.3 L1344.4,454.6 L1346.4,454.8 L1348.4,455.1 L1350.5,455.3 L1352.5,455.6 L1354.5,455.8 L1356.5,456.1 L1358.5,456.4 L1360.5,456.6 L1362.5,456.9 L1364.5,457.1 L1366.5,457.4 L1368.5,457.6 L1370.5,457.9 L1372.5,458.1 L1374.5,458.4 L1376.5,458.6 L1378.5,458.9 L1380.5,459.1 L1382.5,459.4 L1384.5,459.6 L1386.5,459.9 L1388.5,460.1 L1390.5,460.4 L1392.5,460.7 L1394.5,460.9 L1396.5,461.2 L1398.5,461.4" fill="none" stroke="#c1303a" stroke-width="4.1" stroke-linecap="round" stroke-linejoin="round"/>
<path d="M1091.6,270.2 L1091.8,272.2 L1091.9,274.2 L1092.0,276.2 L1092.2,278.2 L1092.3,280.2 L1092.4,282.2 L1092.6,284.2 L1092.7,286.2 L1092.9,288.2 L1093.1,290.2 L1093.3,292.2 L1093.5,294.2 L1093.8,296.2 L1094.1,298.2 L1094.4,300.2 L1094.7,302.2 L1095.1,304.1 L1095.5,306.1 L1095.9,308.1 L1096.4,310.0 L1096.9,312.0 L1097.5,313.9 L1098.1,315.8 L1098.8,317.7 L1099.5,319.6 L1100.3,321.4 L1101.2,323.2 L1102.1,325.0 L1103.0,326.8 L1104.0,328.5 L1105.1,330.2 L1106.1,331.9 L1107.3,333.6 L1108.4,335.2 L1109.6,336.8 L1110.9,338.4 L1112.2,340.0 L1113.5,341.5 L1114.8,343.0 L1116.1,344.5 L1117.5,345.9 L1118.9,347.4 L1120.4,348.8 L1121.8,350.2 L1123.3,351.5 L1124.8,352.9 L1126.3,354.2 L1127.8,355.5 L1129.4,356.8 L1130.9,358.1 L1132.5,359.3 L1134.1,360.5 L1135.7,361.8 L1137.3,363.0 L1138.9,364.1 L1140.6,365.3 L1142.2,366.4 L1143.9,367.6 L1145.6,368.7 L1147.2,369.8 L1148.9,370.8 L1150.6,371.9 L1152.4,372.9 L1154.1,374.0 L1155.8,375.0 L1157.6,375.9 L1159.3,376.9 L1161.1,377.9 L1162.9,378.8 L1164.7,379.7 L1166.5,380.6 L1168.3,381.5 L1170.1,382.4 L1171.9,383.3 L1173.7,384.1 L1175.5,384.9 L1177.4,385.8 L1179.2,386.6 L1181.1,387.4 L1182.9,388.1 L1184.8,388.9 L1186.6,389.6 L1188.5,390.4 L1190.4,391.1 L1192.2,391.8 L1194.1,392.5 L1196.0,393.2 L1197.9,393.9 L1199.8,394.6 L1201.7,395.2 L1203.6,395.9 L1205.5,396.5 L1207.4,397.1 L1209.3,397.7 L1211.2,398.3 L1213.2,398.9 L1215.1,399.5 L1217.0,400.1 L1218.9,400.7 L1220.9,401.2 L1222.8,401.8 L1224.7,402.4 L1226.7,402.9 L1228.6,403.4 L1230.5,404.0 L1232.5,404.5 L1234.4,405.0 L1236.3,405.5 L1238.3,406.0 L1240.2,406.5 L1242.2,407.0 L1244.1,407.5 L1246.1,408.0 L1248.0,408.5 L1250.0,409.0 L1251.9,409.4 L1253.9,409.9 L1255.8,410.4 L1257.8,410.8 L1259.7,411.3 L1261.7,411.8 L1263.7,412.2 L1265.6,412.7 L1267.6,413.1 L1269.5,413.6 L1271.5,414.0 L1273.4,414.5 L1275.4,414.9 L1277.4,415.3 L1279.3,415.8 L1281.3,416.2 L1283.2,416.6 L1285.2,417.1 L1287.2,417.5 L1289.1,417.9 L1291.1,418.3 L1293.1,418.7 L1295.0,419.2 L1297.0,419.6 L1299.0,420.0 L1300.9,420.4 L1302.9,420.8 L1304.9,421.2 L1306.8,421.6 L1308.8,422.0 L1310.8,422.4 L1312.7,422.8 L1314.7,423.2 L1316.7,423.5 L1318.7,423.9 L1320.6,424.3 L1322.6,424.7 L1324.6,425.1 L1326.5,425.4 L1328.5,425.8 L1330.5,426.2 L1332.5,426.5 L1334.4,426.9 L1336.4,427.3 L1338.4,427.6 L1340.4,428.0 L1342.4,428.3 L1344.3,428.7 L1346.3,429.0 L1348.3,429.4 L1350.3,429.7 L1352.2,430.1 L1354.2,430.4 L1356.2,430.7 L1358.2,431.1 L1360.2,431.4 L1362.1,431.7 L1364.1,432.1 L1366.1,432.4 L1368.1,432.7 L1370.1,433.1 L1372.1,433.4 L1374.0,433.7 L1376.0,434.0 L1378.0,434.3 L1380.0,434.7 L1382.0,435.0 L1384.0,435.3 L1385.9,435.6 L1387.9,435.9 L1389.9,436.2 L1391.9,436.5 L1393.9,436.8 L1395.9,437.1 L1397.9,437.4 L1399.8,437.7 L1401.8,438.0 L1403.8,438.3 L1405.8,438.6 L1407.8,438.9 L1409.8,439.1 L1411.8,439.4 L1413.8,439.7 L1415.7,440.0 L1417.7,440.3 L1419.7,440.6 L1421.7,440.8 L1423.7,441.1 L1425.7,441.4 L1427.7,441.7 L1429.7,441.9 L1431.7,442.2 L1433.6,442.5 L1435.6,442.7 L1437.6,443.0 L1439.6,443.3 L1441.6,443.5 L1443.6,443.8 L1445.6,444.1 L1447.6,444.3 L1449.6,444.6 L1451.6,444.8 L1453.6,445.1 L1455.6,445.3 L1457.5,445.6 L1459.5,445.9 L1461.5,446.1 L1463.5,446.4 L1465.5,446.6 L1467.5,446.8 L1469.5,447.1 L1471.5,447.3 L1473.5,447.6 L1475.5,447.8 L1477.5,448.1 L1479.5,448.3 L1481.5,448.5 L1483.5,448.8 L1485.5,449.0 L1487.4,449.3 L1489.4,449.5 L1491.4,449.7 L1493.4,450.0 L1495.4,450.2 L1497.4,450.4 L1499.4,450.7 L1501.4,450.9 L1503.4,451.1 L1505.4,451.4 L1507.4,451.6 L1509.4,451.8 L1511.4,452.0 L1513.4,452.3 L1515.4,452.5 L1517.4,452.7 L1519.4,452.9 L1521.4,453.2 L1523.4,453.4 L1525.4,453.6 L1527.4,453.8 L1529.4,454.0 L1531.4,454.3 L1533.3,454.5 L1535.3,454.7 L1537.3,454.9 L1539.3,455.1 L1541.3,455.4 L1543.3,455.6 L1545.3,455.8 L1547.3,456.0 L1549.3,456.2 L1551.3,456.4 L1553.3,456.7 L1555.3,456.9 L1557.3,457.1 L1559.3,457.3 L1561.3,457.5 L1563.3,457.7 L1565.3,457.9 L1567.3,458.2 L1569.3,458.4 L1571.3,458.6 L1573.3,458.8 L1575.3,459.0 L1577.3,459.2 L1579.3,459.4 L1581.3,459.6 L1583.3,459.9 L1585.3,460.1 L1587.3,460.3 L1589.3,460.5 L1591.3,460.7 L1593.3,460.9 L1595.3,461.1 L1597.3,461.3 L1599.2,461.6 L1601.2,461.8 L1603.2,462.0 L1605.2,462.2 L1607.2,462.4 L1609.2,462.6 L1611.2,462.8 L1613.2,463.1 L1615.2,463.3 L1617.2,463.5 L1619.2,463.7 L1621.2,463.9 L1623.2,464.1 L1625.2,464.3 L1627.2,464.6 L1629.2,464.8 L1631.2,465.0 L1633.2,465.2 L1635.2,465.4 L1637.2,465.6 L1639.2,465.9 L1641.2,466.1 L1643.2,466.3 L1645.2,466.5 L1647.2,466.7 L1649.2,467.0 L1651.2,467.2 L1653.2,467.4 L1655.2,467.6 L1657.2,467.8 L1659.2,468.1 L1661.1,468.3 L1663.1,468.5 L1665.1,468.7 L1667.1,469.0 L1669.1,469.2 L1671.1,469.4 L1673.1,469.6 L1675.1,469.9 L1677.1,470.1 L1679.1,470.3 L1681.1,470.6 L1683.1,470.8 L1685.1,471.0 L1687.1,471.3 L1689.1,471.5 L1691.1,471.7 L1693.1,472.0 L1695.1,472.2 L1697.1,472.4 L1699.1,472.7 L1701.0,472.9 L1703.0,473.2 L1705.0,473.4 L1707.0,473.7 L1709.0,473.9 L1711.0,474.1 L1713.0,474.4 L1715.0,474.6" fill="none" stroke="#3b4bd0" stroke-width="4.1" stroke-linecap="round" stroke-linejoin="round"/>
<path d="M1091.9,162.4 L1091.9,164.4 L1091.9,166.4 L1091.9,168.4 L1091.9,170.4 L1092.0,172.4 L1092.1,174.4 L1092.2,176.4 L1092.4,178.4 L1092.6,180.4 L1092.8,182.4 L1093.0,184.4 L1093.3,186.4 L1093.6,188.4 L1094.0,190.4 L1094.3,192.3 L1094.7,194.3 L1095.1,196.3 L1095.6,198.2 L1096.1,200.2 L1096.6,202.1 L1097.1,204.1 L1097.7,206.0 L1098.2,207.9 L1098.9,209.8 L1099.5,211.7 L1100.2,213.6 L1100.9,215.5 L1101.6,217.4 L1102.3,219.2 L1103.1,221.1 L1103.9,222.9 L1104.8,224.7 L1105.6,226.6 L1106.5,228.4 L1107.4,230.1 L1108.3,231.9 L1109.3,233.7 L1110.2,235.4 L1111.2,237.2 L1112.3,238.9 L1113.3,240.6 L1114.4,242.3 L1115.5,244.0 L1116.6,245.7 L1117.7,247.3 L1118.9,249.0 L1120.0,250.6 L1121.2,252.2 L1122.4,253.8 L1123.7,255.4 L1124.9,257.0 L1126.2,258.5 L1127.5,260.1 L1128.8,261.6 L1130.1,263.1 L1131.4,264.6 L1132.8,266.1 L1134.2,267.5 L1135.6,269.0 L1137.0,270.4 L1138.4,271.8 L1139.8,273.2 L1141.3,274.6 L1142.8,276.0 L1144.3,277.3 L1145.7,278.7 L1147.3,280.0 L1148.8,281.3 L1150.3,282.6 L1151.9,283.9 L1153.4,285.1 L1155.0,286.4 L1156.6,287.6 L1158.2,288.8 L1159.8,290.0 L1161.4,291.2 L1163.0,292.4 L1164.6,293.6 L1166.3,294.7 L1167.9,295.9 L1169.6,297.0 L1171.3,298.1 L1172.9,299.2 L1174.6,300.3 L1176.3,301.4 L1178.0,302.5 L1179.7,303.5 L1181.4,304.6 L1183.1,305.6 L1184.9,306.6 L1186.6,307.6 L1188.4,308.6 L1190.1,309.6 L1191.8,310.6 L1193.6,311.6 L1195.4,312.5 L1197.1,313.5 L1198.9,314.4 L1200.7,315.3 L1202.5,316.2 L1204.3,317.2 L1206.1,318.1 L1207.9,319.0 L1209.7,319.8 L1211.5,320.7 L1213.3,321.6 L1215.1,322.4 L1216.9,323.3 L1218.7,324.1 L1220.6,325.0 L1222.4,325.8 L1224.2,326.6 L1226.0,327.4 L1227.9,328.2 L1229.7,329.0 L1231.6,329.8 L1233.4,330.6 L1235.3,331.4 L1237.1,332.2 L1239.0,332.9 L1240.8,333.7 L1242.7,334.5 L1244.5,335.2 L1246.4,335.9 L1248.3,336.7 L1250.1,337.4 L1252.0,338.1 L1253.9,338.9 L1255.8,339.6 L1257.6,340.3 L1259.5,341.0 L1261.4,341.7 L1263.3,342.4 L1265.2,343.1 L1267.1,343.7 L1269.0,344.4 L1270.8,345.1 L1272.7,345.7 L1274.6,346.4 L1276.5,347.1 L1278.4,347.7 L1280.3,348.4 L1282.2,349.0 L1284.1,349.6 L1286.0,350.3 L1287.9,350.9 L1289.9,351.5 L1291.8,352.1 L1293.7,352.7 L1295.6,353.4 L1297.5,354.0 L1299.4,354.6 L1301.3,355.2 L1303.2,355.8 L1305.2,356.4 L1307.1,356.9 L1309.0,357.5 L1310.9,358.1 L1312.8,358.7 L1314.8,359.3 L1316.7,359.8 L1318.6,360.4 L1320.5,361.0 L1322.5,361.5 L1324.4,362.1 L1326.3,362.7 L1328.2,363.2 L1330.2,363.8 L1332.1,364.3 L1334.0,364.9 L1336.0,365.4 L1337.9,366.0 L1339.8,366.5 L1341.8,367.0 L1343.7,367.6 L1345.6,368.1 L1347.6,368.7 L1349.5,369.2 L1351.4,369.7 L1353.4,370.3 L1355.3,370.8 L1357.2,371.3 L1359.2,371.9 L1361.1,372.4 L1363.0,372.9 L1365.0,373.4 L1366.9,373.9 L1368.9,374.5 L1370.8,375.0 L1372.7,375.5 L1374.7,376.0 L1376.6,376.5 L1378.6,377.0 L1380.5,377.5 L1382.5,378.0 L1384.4,378.4 L1386.4,378.9 L1388.3,379.4 L1390.3,379.9 L1392.2,380.3 L1394.2,380.8 L1396.1,381.2 L1398.1,381.7 L1400.0,382.1 L1402.0,382.6 L1403.9,383.0 L1405.9,383.4 L1407.9,383.9 L1409.8,384.3 L1411.8,384.7 L1413.8,385.1 L1415.7,385.5 L1417.7,385.9 L1419.7,386.3 L1421.6,386.7 L1423.6,387.0 L1425.6,387.4 L1427.5,387.8 L1429.5,388.2 L1431.5,388.5 L1433.5,388.9 L1435.4,389.3 L1437.4,389.6 L1439.4,390.0 L1441.4,390.3 L1443.3,390.7 L1445.3,391.0 L1447.3,391.4 L1449.3,391.7 L1451.2,392.1 L1453.2,392.4 L1455.2,392.7 L1457.2,393.1 L1459.2,393.4 L1461.1,393.7 L1463.1,394.1 L1465.1,394.4 L1467.1,394.7 L1469.1,395.1 L1471.0,395.4 L1473.0,395.7 L1475.0,396.0 L1477.0,396.4 L1479.0,396.7 L1480.9,397.0 L1482.9,397.4 L1484.9,397.7 L1486.9,398.0 L1488.9,398.3 L1490.8,398.6 L1492.8,399.0 L1494.8,399.3 L1496.8,399.6 L1498.8,399.9 L1500.7,400.3 L1502.7,400.6 L1504.7,400.9 L1506.7,401.2 L1508.7,401.5 L1510.7,401.8 L1512.6,402.2 L1514.6,402.5 L1516.6,402.8 L1518.6,403.1 L1520.6,403.4 L1522.5,403.7 L1524.5,404.0 L1526.5,404.3 L1528.5,404.7 L1530.5,405.0 L1532.5,405.3 L1534.4,405.6 L1536.4,405.9 L1538.4,406.2 L1540.4,406.5 L1542.4,406.8 L1544.4,407.1 L1546.3,407.4 L1548.3,407.7 L1550.3,408.1 L1552.3,408.4 L1554.3,408.7 L1556.3,409.0 L1558.2,409.3 L1560.2,409.6 L1562.2,409.9 L1564.2,410.2 L1566.2,410.5 L1568.2,410.8 L1570.1,411.1 L1572.1,411.4 L1574.1,411.7 L1576.1,412.0 L1578.1,412.3 L1580.1,412.6 L1582.0,412.9 L1584.0,413.2 L1586.0,413.5 L1588.0,413.8 L1590.0,414.1 L1592.0,414.4 L1593.9,414.7 L1595.9,415.0 L1597.9,415.3 L1599.9,415.6 L1601.9,415.9 L1603.9,416.2 L1605.9,416.5 L1607.8,416.8 L1609.8,417.1 L1611.8,417.4 L1613.8,417.7 L1615.8,418.0 L1617.8,418.3 L1619.7,418.6 L1621.7,418.9 L1623.7,419.2 L1625.7,419.5 L1627.7,419.8 L1629.7,420.1 L1631.7,420.4 L1633.6,420.7 L1635.6,421.0 L1637.6,421.3 L1639.6,421.5 L1641.6,421.8 L1643.6,422.1 L1645.5,422.4 L1647.5,422.7 L1649.5,423.0 L1651.5,423.3 L1653.5,423.6 L1655.5,423.9 L1657.5,424.2 L1659.4,424.5 L1661.4,424.8 L1663.4,425.1 L1665.4,425.4 L1667.4,425.7 L1669.4,426.0 L1671.3,426.3 L1673.3,426.6 L1675.3,426.9 L1677.3,427.2 L1679.3,427.5 L1681.3,427.8 L1683.3,428.1 L1685.2,428.4 L1687.2,428.7 L1689.2,429.0 L1691.2,429.3 L1693.2,429.6 L1695.2,429.9 L1697.1,430.2 L1699.1,430.5 L1701.1,430.8 L1703.1,431.1 L1705.1,431.4 L1707.1,431.7 L1709.0,432.0 L1711.0,432.3 L1713.0,432.6 L1715.0,432.9" fill="none" stroke="#519b56" stroke-width="4.1" stroke-linecap="round" stroke-linejoin="round"/>
<path d="M1091.6,71.7 L1091.6,73.7 L1091.6,75.7 L1091.7,77.7 L1091.7,79.7 L1091.8,81.7 L1092.0,83.7 L1092.1,85.7 L1092.3,87.7 L1092.5,89.7 L1092.8,91.7 L1093.0,93.7 L1093.3,95.7 L1093.7,97.7 L1094.0,99.7 L1094.4,101.6 L1094.8,103.6 L1095.2,105.5 L1095.7,107.5 L1096.2,109.4 L1096.7,111.4 L1097.2,113.3 L1097.8,115.3 L1098.4,117.2 L1099.0,119.1 L1099.6,121.0 L1100.3,122.9 L1101.0,124.8 L1101.7,126.6 L1102.4,128.5 L1103.2,130.4 L1104.0,132.2 L1104.8,134.1 L1105.6,135.9 L1106.4,137.7 L1107.3,139.5 L1108.2,141.3 L1109.1,143.1 L1110.0,144.9 L1110.9,146.7 L1111.9,148.4 L1112.9,150.2 L1113.9,151.9 L1114.9,153.7 L1115.9,155.4 L1117.0,157.1 L1118.1,158.8 L1119.2,160.5 L1120.3,162.1 L1121.4,163.8 L1122.5,165.5 L1123.7,167.1 L1124.8,168.7 L1126.0,170.4 L1127.2,172.0 L1128.4,173.6 L1129.6,175.2 L1130.9,176.7 L1132.1,178.3 L1133.4,179.9 L1134.7,181.4 L1136.0,183.0 L1137.3,184.5 L1138.6,186.0 L1139.9,187.5 L1141.3,189.0 L1142.6,190.5 L1144.0,191.9 L1145.4,193.4 L1146.8,194.9 L1148.2,196.3 L1149.6,197.7 L1151.0,199.1 L1152.4,200.6 L1153.8,202.0 L1155.3,203.3 L1156.8,204.7 L1158.2,206.1 L1159.7,207.4 L1161.2,208.8 L1162.7,210.1 L1164.2,211.5 L1165.7,212.8 L1167.2,214.1 L1168.7,215.4 L1170.3,216.7 L1171.8,218.0 L1173.4,219.2 L1174.9,220.5 L1176.5,221.8 L1178.1,223.0 L1179.6,224.3 L1181.2,225.5 L1182.8,226.7 L1184.4,227.9 L1186.0,229.1 L1187.6,230.3 L1189.3,231.5 L1190.9,232.7 L1192.5,233.9 L1194.1,235.0 L1195.8,236.2 L1197.4,237.4 L1199.1,238.5 L1200.7,239.6 L1202.4,240.8 L1204.0,241.9 L1205.7,243.0 L1207.4,244.1 L1209.1,245.2 L1210.7,246.3 L1212.4,247.4 L1214.1,248.5 L1215.8,249.6 L1217.5,250.6 L1219.2,251.7 L1220.9,252.7 L1222.6,253.8 L1224.3,254.8 L1226.1,255.9 L1227.8,256.9 L1229.5,257.9 L1231.2,259.0 L1233.0,260.0 L1234.7,261.0 L1236.4,262.0 L1238.2,263.0 L1239.9,264.0 L1241.7,265.0 L1243.4,266.0 L1245.2,266.9 L1246.9,267.9 L1248.7,268.9 L1250.4,269.8 L1252.2,270.8 L1254.0,271.8 L1255.7,272.7 L1257.5,273.6 L1259.3,274.6 L1261.1,275.5 L1262.9,276.4 L1264.6,277.4 L1266.4,278.3 L1268.2,279.2 L1270.0,280.1 L1271.8,281.0 L1273.6,281.9 L1275.4,282.8 L1277.2,283.6 L1279.0,284.5 L1280.8,285.4 L1282.6,286.3 L1284.4,287.1 L1286.3,288.0 L1288.1,288.8 L1289.9,289.7 L1291.7,290.5 L1293.5,291.4 L1295.4,292.2 L1297.2,293.0 L1299.0,293.8 L1300.9,294.7 L1302.7,295.5 L1304.5,296.3 L1306.4,297.1 L1308.2,297.9 L1310.0,298.7 L1311.9,299.5 L1313.7,300.3 L1315.6,301.0 L1317.4,301.8 L1319.3,302.6 L1321.1,303.4 L1323.0,304.1 L1324.9,304.9 L1326.7,305.6 L1328.6,306.4 L1330.4,307.1 L1332.3,307.9 L1334.2,308.6 L1336.0,309.4 L1337.9,310.1 L1339.8,310.8 L1341.7,311.5 L1343.5,312.2 L1345.4,313.0 L1347.3,313.7 L1349.2,314.4 L1351.0,315.1 L1352.9,315.8 L1354.8,316.5 L1356.7,317.2 L1358.6,317.8 L1360.5,318.5 L1362.4,319.2 L1364.2,319.9 L1366.1,320.6 L1368.0,321.2 L1369.9,321.9 L1371.8,322.6 L1373.7,323.2 L1375.6,323.9 L1377.5,324.5 L1379.4,325.2 L1381.3,325.8 L1383.2,326.5 L1385.1,327.1 L1387.0,327.7 L1388.9,328.4 L1390.8,329.0 L1392.7,329.6 L1394.6,330.2 L1396.6,330.8 L1398.5,331.5 L1400.4,332.1 L1402.3,332.7 L1404.2,333.3 L1406.1,333.9 L1408.0,334.5 L1409.9,335.1 L1411.9,335.7 L1413.8,336.3 L1415.7,336.9 L1417.6,337.5 L1419.5,338.1 L1421.5,338.6 L1423.4,339.2 L1425.3,339.8 L1427.2,340.4 L1429.2,340.9 L1431.1,341.5 L1433.0,342.1 L1434.9,342.6 L1436.9,343.2 L1438.8,343.8 L1440.7,344.3 L1442.6,344.9 L1444.6,345.4 L1446.5,346.0 L1448.4,346.6 L1450.4,347.1 L1452.3,347.6 L1454.2,348.2 L1456.1,348.7 L1458.1,349.3 L1460.0,349.8 L1461.9,350.4 L1463.9,350.9 L1465.8,351.4 L1467.8,352.0 L1469.7,352.5 L1471.6,353.0 L1473.6,353.5 L1475.5,354.1 L1477.4,354.6 L1479.4,355.1 L1481.3,355.6 L1483.3,356.2 L1485.2,356.7 L1487.1,357.2 L1489.1,357.7 L1491.0,358.2 L1493.0,358.7 L1494.9,359.2 L1496.8,359.7 L1498.8,360.2 L1500.7,360.8 L1502.7,361.3 L1504.6,361.8 L1506.6,362.3 L1508.5,362.7 L1510.4,363.2 L1512.4,363.7 L1514.3,364.2 L1516.3,364.7 L1518.2,365.2 L1520.2,365.7 L1522.1,366.2 L1524.1,366.7 L1526.0,367.1 L1528.0,367.6 L1529.9,368.1 L1531.9,368.6 L1533.8,369.0 L1535.8,369.5 L1537.7,370.0 L1539.7,370.4 L1541.6,370.9 L1543.6,371.4 L1545.5,371.8 L1547.5,372.3 L1549.4,372.8 L1551.4,373.2 L1553.4,373.7 L1555.3,374.1 L1557.3,374.6 L1559.2,375.0 L1561.2,375.5 L1563.1,375.9 L1565.1,376.4 L1567.0,376.8 L1569.0,377.2 L1571.0,377.7 L1572.9,378.1 L1574.9,378.5 L1576.8,379.0 L1578.8,379.4 L1580.8,379.8 L1582.7,380.3 L1584.7,380.7 L1586.7,381.1 L1588.6,381.5 L1590.6,382.0 L1592.5,382.4 L1594.5,382.8 L1596.5,383.2 L1598.4,383.6 L1600.4,384.0 L1602.4,384.4 L1604.3,384.8 L1606.3,385.2 L1608.3,385.6 L1610.2,386.0 L1612.2,386.4 L1614.2,386.8 L1616.1,387.2 L1618.1,387.6 L1620.1,388.0 L1622.0,388.4 L1624.0,388.8 L1626.0,389.2 L1627.9,389.6 L1629.9,389.9 L1631.9,390.3 L1633.9,390.7 L1635.8,391.1 L1637.8,391.4 L1639.8,391.8 L1641.7,392.2 L1643.7,392.5 L1645.7,392.9 L1647.7,393.3 L1649.6,393.6 L1651.6,394.0 L1653.6,394.4 L1655.6,394.7 L1657.5,395.1 L1659.5,395.4 L1661.5,395.8 L1663.5,396.1 L1665.5,396.5 L1667.4,396.8 L1669.4,397.1 L1671.4,397.5 L1673.4,397.8 L1675.3,398.1 L1677.3,398.5 L1679.3,398.8 L1681.3,399.1 L1683.3,399.5 L1685.2,399.8 L1687.2,400.1 L1689.2,400.4 L1691.2,400.8 L1693.2,401.1 L1695.2,401.4 L1697.1,401.7 L1699.1,402.0 L1701.1,402.3 L1703.1,402.6 L1705.1,402.9 L1707.1,403.2 L1709.0,403.5 L1711.0,403.8 L1713.0,404.1 L1715.0,404.4" fill="none" stroke="#8c55d6" stroke-width="4.1" stroke-linecap="round" stroke-linejoin="round"/>
<path d="M1091.7,38.1 L1091.8,40.1 L1091.9,42.1 L1092.1,44.1 L1092.3,46.1 L1092.5,48.1 L1092.7,50.1 L1092.9,52.1 L1093.1,54.1 L1093.4,56.1 L1093.7,58.1 L1094.0,60.1 L1094.3,62.0 L1094.6,64.0 L1095.0,66.0 L1095.4,68.0 L1095.8,69.9 L1096.2,71.9 L1096.7,73.8 L1097.2,75.8 L1097.7,77.7 L1098.2,79.7 L1098.8,81.6 L1099.4,83.5 L1100.0,85.4 L1100.7,87.3 L1101.4,89.2 L1102.1,91.1 L1102.8,93.0 L1103.6,94.8 L1104.4,96.7 L1105.2,98.5 L1106.0,100.3 L1106.9,102.1 L1107.8,103.9 L1108.7,105.7 L1109.7,107.5 L1110.7,109.2 L1111.7,111.0 L1112.7,112.7 L1113.7,114.4 L1114.7,116.1 L1115.8,117.9 L1116.9,119.5 L1118.0,121.2 L1119.1,122.9 L1120.2,124.6 L1121.4,126.2 L1122.5,127.8 L1123.7,129.5 L1124.9,131.1 L1126.1,132.7 L1127.3,134.3 L1128.5,135.9 L1129.8,137.5 L1131.0,139.1 L1132.3,140.6 L1133.5,142.2 L1134.8,143.7 L1136.1,145.3 L1137.4,146.8 L1138.7,148.3 L1140.0,149.9 L1141.3,151.4 L1142.7,152.8 L1144.0,154.3 L1145.4,155.8 L1146.8,157.3 L1148.2,158.7 L1149.5,160.2 L1150.9,161.6 L1152.4,163.1 L1153.8,164.5 L1155.2,165.9 L1156.6,167.3 L1158.1,168.7 L1159.5,170.1 L1161.0,171.5 L1162.5,172.8 L1163.9,174.2 L1165.4,175.6 L1166.9,176.9 L1168.4,178.2 L1169.9,179.6 L1171.4,180.9 L1172.9,182.2 L1174.5,183.5 L1176.0,184.8 L1177.5,186.1 L1179.1,187.4 L1180.6,188.7 L1182.2,189.9 L1183.7,191.2 L1185.3,192.4 L1186.9,193.7 L1188.5,194.9 L1190.1,196.2 L1191.7,197.4 L1193.3,198.6 L1194.9,199.8 L1196.5,201.0 L1198.1,202.2 L1199.7,203.4 L1201.3,204.6 L1202.9,205.8 L1204.6,206.9 L1206.2,208.1 L1207.9,209.2 L1209.5,210.4 L1211.2,211.5 L1212.8,212.7 L1214.5,213.8 L1216.1,214.9 L1217.8,216.1 L1219.5,217.2 L1221.1,218.3 L1222.8,219.4 L1224.5,220.5 L1226.2,221.6 L1227.9,222.7 L1229.6,223.7 L1231.3,224.8 L1233.0,225.9 L1234.7,227.0 L1236.4,228.0 L1238.1,229.1 L1239.8,230.1 L1241.5,231.2 L1243.2,232.2 L1244.9,233.2 L1246.7,234.3 L1248.4,235.3 L1250.1,236.3 L1251.9,237.3 L1253.6,238.3 L1255.3,239.4 L1257.1,240.3 L1258.8,241.3 L1260.6,242.3 L1262.3,243.3 L1264.1,244.3 L1265.8,245.3 L1267.6,246.2 L1269.3,247.2 L1271.1,248.2 L1272.9,249.1 L1274.6,250.1 L1276.4,251.0 L1278.2,252.0 L1280.0,252.9 L1281.7,253.8 L1283.5,254.7 L1285.3,255.7 L1287.1,256.6 L1288.9,257.5 L1290.7,258.4 L1292.5,259.3 L1294.3,260.2 L1296.1,261.1 L1297.9,262.0 L1299.7,262.9 L1301.5,263.7 L1303.3,264.6 L1305.1,265.5 L1306.9,266.4 L1308.7,267.2 L1310.5,268.1 L1312.4,268.9 L1314.2,269.8 L1316.0,270.6 L1317.8,271.5 L1319.7,272.3 L1321.5,273.1 L1323.3,274.0 L1325.1,274.8 L1327.0,275.6 L1328.8,276.4 L1330.7,277.2 L1332.5,278.0 L1334.3,278.8 L1336.2,279.6 L1338.0,280.4 L1339.9,281.2 L1341.7,282.0 L1343.6,282.8 L1345.4,283.6 L1347.3,284.3 L1349.1,285.1 L1351.0,285.9 L1352.8,286.6 L1354.7,287.4 L1356.6,288.2 L1358.4,288.9 L1360.3,289.7 L1362.1,290.4 L1364.0,291.2 L1365.9,291.9 L1367.7,292.6 L1369.6,293.4 L1371.5,294.1 L1373.4,294.8 L1375.2,295.5 L1377.1,296.3 L1379.0,297.0 L1380.9,297.7 L1382.7,298.4 L1384.6,299.1 L1386.5,299.8 L1388.4,300.5 L1390.3,301.2 L1392.2,301.9 L1394.0,302.6 L1395.9,303.3 L1397.8,304.0 L1399.7,304.6 L1401.6,305.3 L1403.5,306.0 L1405.4,306.7 L1407.3,307.3 L1409.2,308.0 L1411.1,308.7 L1413.0,309.3 L1414.9,310.0 L1416.8,310.6 L1418.7,311.3 L1420.6,311.9 L1422.5,312.6 L1424.4,313.2 L1426.3,313.9 L1428.2,314.5 L1430.1,315.2 L1432.0,315.8 L1433.9,316.4 L1435.8,317.0 L1437.7,317.7 L1439.6,318.3 L1441.5,318.9 L1443.4,319.5 L1445.3,320.2 L1447.2,320.8 L1449.2,321.4 L1451.1,322.0 L1453.0,322.6 L1454.9,323.2 L1456.8,323.8 L1458.7,324.4 L1460.6,325.0 L1462.6,325.6 L1464.5,326.2 L1466.4,326.8 L1468.3,327.4 L1470.2,328.0 L1472.1,328.6 L1474.1,329.2 L1476.0,329.8 L1477.9,330.4 L1479.8,331.0 L1481.8,331.5 L1483.7,332.1 L1485.6,332.7 L1487.5,333.3 L1489.4,333.8 L1491.4,334.4 L1493.3,335.0 L1495.2,335.6 L1497.2,336.1 L1499.1,336.7 L1501.0,337.2 L1502.9,337.8 L1504.9,338.4 L1506.8,338.9 L1508.7,339.5 L1510.7,340.0 L1512.6,340.6 L1514.5,341.1 L1516.5,341.6 L1518.4,342.2 L1520.3,342.7 L1522.3,343.3 L1524.2,343.8 L1526.1,344.3 L1528.1,344.8 L1530.0,345.4 L1532.0,345.9 L1533.9,346.4 L1535.8,346.9 L1537.8,347.5 L1539.7,348.0 L1541.7,348.5 L1543.6,349.0 L1545.5,349.5 L1547.5,350.0 L1549.4,350.5 L1551.4,351.0 L1553.3,351.5 L1555.3,352.0 L1557.2,352.5 L1559.2,353.0 L1561.1,353.5 L1563.1,353.9 L1565.0,354.4 L1567.0,354.9 L1568.9,355.4 L1570.9,355.8 L1572.8,356.3 L1574.8,356.8 L1576.7,357.3 L1578.7,357.7 L1580.6,358.2 L1582.6,358.6 L1584.5,359.1 L1586.5,359.5 L1588.5,360.0 L1590.4,360.4 L1592.4,360.9 L1594.3,361.3 L1596.3,361.8 L1598.3,362.2 L1600.2,362.6 L1602.2,363.0 L1604.1,363.5 L1606.1,363.9 L1608.1,364.3 L1610.0,364.7 L1612.0,365.1 L1614.0,365.6 L1615.9,366.0 L1617.9,366.4 L1619.9,366.8 L1621.8,367.2 L1623.8,367.6 L1625.8,368.0 L1627.7,368.3 L1629.7,368.7 L1631.7,369.1 L1633.7,369.5 L1635.6,369.9 L1637.6,370.2 L1639.6,370.6 L1641.6,371.0 L1643.5,371.4 L1645.5,371.7 L1647.5,372.1 L1649.5,372.4 L1651.4,372.8 L1653.4,373.1 L1655.4,373.5 L1657.4,373.8 L1659.4,374.2 L1661.3,374.5 L1663.3,374.8 L1665.3,375.1 L1667.3,375.5 L1669.3,375.8 L1671.2,376.1 L1673.2,376.4 L1675.2,376.7 L1677.2,377.0 L1679.2,377.3 L1681.2,377.7 L1683.1,377.9 L1685.1,378.2 L1687.1,378.5 L1689.1,378.8 L1691.1,379.1 L1693.1,379.4 L1695.1,379.7 L1697.1,379.9 L1699.1,380.2 L1701.0,380.5 L1703.0,380.7 L1705.0,381.0 L1707.0,381.2 L1709.0,381.5 L1711.0,381.7 L1713.0,382.0 L1715.0,382.2" fill="none" stroke="#b08a1e" stroke-width="4.1" stroke-linecap="round" stroke-linejoin="round"/>
<path d="M1091.10,520.95V505.95M1153.71,520.95V514.95M1216.32,520.95V505.95M1278.93,520.95V514.95M1341.54,520.95V505.95M1404.15,520.95V514.95M1466.76,520.95V505.95M1529.37,520.95V514.95M1591.98,520.95V505.95M1654.59,520.95V514.95M1075.90,488.50H1090.90M1075.90,353.80H1090.90M1075.90,219.10H1090.90M1075.90,84.40H1090.90M1075.90,421.15H1081.90M1075.90,286.45H1081.90M1075.90,151.75H1081.90M1075.90,17.05H1081.90" stroke="#000" stroke-width="3.4" fill="none"/>
<rect x="1075.9" y="3.9" width="641.30" height="517.05" fill="none" stroke="#000" stroke-width="3.6"/>
<text x="1059.0" y="504.3" font-size="52" text-anchor="end">0.000</text>
<text x="1059.0" y="369.6" font-size="52" text-anchor="end">−0.005</text>
<text x="1059.0" y="234.9" font-size="52" text-anchor="end">−0.010</text>
<text x="1059.0" y="100.2" font-size="52" text-anchor="end">−0.015</text>
<text x="1091.1" y="577.5" font-size="52" text-anchor="middle">0</text>
<text x="1216.3" y="577.5" font-size="52" text-anchor="middle">20</text>
<text x="1341.5" y="577.5" font-size="52" text-anchor="middle">40</text>
<text x="1466.8" y="577.5" font-size="52" text-anchor="middle">60</text>
<text x="1592.0" y="577.5" font-size="52" text-anchor="middle">80</text>
<text x="1331.9" y="633.8" font-size="52">Time (s)</text>
<text transform="translate(901.7,347.6) rotate(-90)" font-size="51">ΔG (μS)</text>
<text x="1147.5" y="98.0" font-size="52">(b)</text>
<text x="1402.5" y="272.8" font-size="59.5">30°</text>
<path d="M228.6,1000.2 L228.8,1002.2 L228.9,1004.3 L229.0,1006.3 L229.1,1008.3 L229.2,1010.3 L229.3,1012.4 L229.4,1014.4 L229.5,1016.4 L229.5,1018.5 L229.6,1020.5 L229.6,1022.5 L229.7,1024.6 L229.8,1026.6 L229.9,1028.6 L230.0,1030.6 L230.2,1032.7 L230.3,1034.7 L230.5,1036.7 L230.7,1038.7 L231.0,1040.8 L231.3,1042.8 L231.6,1044.8 L231.9,1046.8 L232.4,1048.8 L232.8,1050.7 L233.3,1052.7 L233.9,1054.7 L234.4,1056.6 L235.1,1058.5 L235.8,1060.4 L236.5,1062.3 L237.3,1064.2 L238.2,1066.0 L239.1,1067.9 L240.1,1069.6 L241.1,1071.4 L242.2,1073.1 L243.3,1074.8 L244.6,1076.4 L245.8,1078.0 L247.2,1079.5 L248.6,1081.0 L250.0,1082.4 L251.5,1083.8 L253.1,1085.1 L254.7,1086.3 L256.3,1087.5 L258.0,1088.7 L259.7,1089.7 L261.5,1090.8 L263.3,1091.8 L265.1,1092.7 L266.9,1093.6 L268.7,1094.4 L270.6,1095.3 L272.5,1096.0 L274.4,1096.8 L276.3,1097.5 L278.2,1098.1 L280.1,1098.8 L282.1,1099.4 L284.0,1099.9 L286.0,1100.5 L287.9,1101.0 L289.9,1101.5 L291.9,1102.0 L293.8,1102.5 L295.8,1102.9 L297.8,1103.3 L299.8,1103.7 L301.8,1104.1 L303.8,1104.5 L305.8,1104.9 L307.8,1105.2 L309.8,1105.6 L311.8,1105.9 L313.8,1106.2 L315.8,1106.6 L317.8,1106.9 L319.8,1107.2 L321.8,1107.5 L323.8,1107.8 L325.8,1108.2 L327.8,1108.5 L329.8,1108.8 L331.9,1109.2 L333.9,1109.5 L335.9,1109.9 L337.9,1110.2 L339.8,1110.6 L341.8,1111.0 L343.8,1111.4 L345.8,1111.8 L347.8,1112.3" fill="none" stroke="#3d3d3d" stroke-width="4.1" stroke-linecap="round" stroke-linejoin="round"/>
<path d="M228.6,957.3 L228.7,959.3 L228.9,961.3 L229.0,963.3 L229.1,965.4 L229.1,967.4 L229.2,969.4 L229.3,971.4 L229.4,973.4 L229.5,975.4 L229.6,977.4 L229.7,979.4 L229.8,981.4 L230.0,983.4 L230.1,985.4 L230.2,987.5 L230.4,989.5 L230.6,991.5 L230.8,993.5 L231.0,995.5 L231.2,997.5 L231.5,999.5 L231.8,1001.5 L232.1,1003.4 L232.4,1005.4 L232.8,1007.4 L233.2,1009.4 L233.6,1011.3 L234.1,1013.3 L234.6,1015.3 L235.1,1017.2 L235.7,1019.1 L236.3,1021.0 L237.0,1022.9 L237.7,1024.8 L238.5,1026.7 L239.3,1028.5 L240.2,1030.3 L241.1,1032.1 L242.0,1033.9 L243.1,1035.6 L244.1,1037.3 L245.2,1039.0 L246.4,1040.7 L247.5,1042.3 L248.8,1043.9 L250.0,1045.5 L251.3,1047.0 L252.6,1048.5 L254.0,1050.0 L255.4,1051.4 L256.8,1052.9 L258.3,1054.3 L259.8,1055.6 L261.3,1056.9 L262.8,1058.2 L264.4,1059.5 L266.0,1060.7 L267.6,1062.0 L269.2,1063.1 L270.9,1064.3 L272.5,1065.4 L274.2,1066.5 L275.9,1067.5 L277.7,1068.6 L279.4,1069.6 L281.2,1070.5 L283.0,1071.5 L284.8,1072.4 L286.6,1073.3 L288.4,1074.1 L290.2,1075.0 L292.1,1075.8 L293.9,1076.6 L295.8,1077.3 L297.6,1078.1 L299.5,1078.8 L301.4,1079.5 L303.3,1080.2 L305.2,1080.8 L307.1,1081.5 L309.0,1082.1 L310.9,1082.7 L312.9,1083.3 L314.8,1083.8 L316.7,1084.4 L318.7,1084.9 L320.6,1085.5 L322.6,1086.0 L324.5,1086.5 L326.5,1087.0 L328.4,1087.5 L330.4,1087.9 L332.3,1088.4 L334.3,1088.9 L336.2,1089.3 L338.2,1089.8 L340.2,1090.2 L342.1,1090.6 L344.1,1091.0 L346.1,1091.5 L348.0,1091.9 L350.0,1092.3 L352.0,1092.7 L354.0,1093.1 L355.9,1093.5 L357.9,1093.9 L359.9,1094.3 L361.9,1094.7 L363.8,1095.1 L365.8,1095.4 L367.8,1095.8 L369.8,1096.2 L371.7,1096.6 L373.7,1096.9 L375.7,1097.3 L377.7,1097.7 L379.7,1098.0 L381.6,1098.4 L383.6,1098.7 L385.6,1099.1 L387.6,1099.4 L389.6,1099.8 L391.5,1100.1 L393.5,1100.4 L395.5,1100.8 L397.5,1101.1 L399.5,1101.4 L401.5,1101.7 L403.5,1102.0 L405.5,1102.4 L407.4,1102.7 L409.4,1103.0 L411.4,1103.3 L413.4,1103.6 L415.4,1103.9 L417.4,1104.2 L419.4,1104.5 L421.4,1104.7 L423.4,1105.0 L425.4,1105.3 L427.4,1105.6 L429.3,1105.9 L431.3,1106.1 L433.3,1106.4 L435.3,1106.7 L437.3,1106.9 L439.3,1107.2 L441.3,1107.4 L443.3,1107.7 L445.3,1107.9 L447.3,1108.2 L449.3,1108.4 L451.3,1108.7 L453.3,1108.9 L455.3,1109.1 L457.3,1109.4 L459.3,1109.6 L461.3,1109.8 L463.3,1110.1 L465.3,1110.3 L467.3,1110.5 L469.3,1110.7 L471.3,1110.9 L473.3,1111.2 L475.3,1111.4 L477.3,1111.6 L479.3,1111.8 L481.3,1112.0 L483.3,1112.2 L485.3,1112.4 L487.3,1112.6" fill="none" stroke="#c1303a" stroke-width="4.1" stroke-linecap="round" stroke-linejoin="round"/>
<path d="M228.6,872.3 L228.6,874.3 L228.7,876.3 L228.7,878.3 L228.7,880.4 L228.8,882.4 L228.8,884.4 L228.9,886.4 L229.0,888.4 L229.1,890.4 L229.2,892.4 L229.3,894.4 L229.4,896.4 L229.5,898.4 L229.7,900.4 L229.9,902.4 L230.0,904.4 L230.2,906.4 L230.4,908.4 L230.7,910.4 L230.9,912.4 L231.2,914.4 L231.4,916.4 L231.7,918.4 L232.0,920.4 L232.4,922.4 L232.7,924.4 L233.1,926.3 L233.5,928.3 L233.9,930.3 L234.3,932.2 L234.8,934.2 L235.3,936.2 L235.8,938.1 L236.3,940.0 L236.9,942.0 L237.4,943.9 L238.0,945.8 L238.7,947.7 L239.3,949.6 L240.0,951.5 L240.7,953.4 L241.5,955.3 L242.2,957.1 L243.0,959.0 L243.9,960.8 L244.7,962.6 L245.6,964.4 L246.5,966.2 L247.4,968.0 L248.4,969.8 L249.4,971.5 L250.4,973.3 L251.4,975.0 L252.5,976.7 L253.5,978.4 L254.6,980.1 L255.8,981.8 L256.9,983.4 L258.1,985.1 L259.3,986.7 L260.5,988.3 L261.7,989.9 L262.9,991.5 L264.2,993.0 L265.5,994.6 L266.8,996.1 L268.1,997.6 L269.5,999.1 L270.9,1000.6 L272.2,1002.0 L273.6,1003.5 L275.1,1004.9 L276.5,1006.3 L277.9,1007.7 L279.4,1009.1 L280.9,1010.4 L282.4,1011.7 L283.9,1013.1 L285.5,1014.4 L287.0,1015.6 L288.6,1016.9 L290.2,1018.1 L291.8,1019.4 L293.4,1020.6 L295.0,1021.7 L296.6,1022.9 L298.3,1024.1 L300.0,1025.2 L301.6,1026.3 L303.3,1027.4 L305.0,1028.5 L306.7,1029.6 L308.4,1030.6 L310.1,1031.7 L311.8,1032.8 L313.6,1033.8 L315.3,1034.8 L317.0,1035.8 L318.7,1036.9 L320.5,1037.9 L322.2,1038.9 L324.0,1039.9 L325.7,1040.9 L327.4,1041.9 L329.2,1042.9 L331.0,1043.9 L332.7,1044.8 L334.5,1045.8 L336.3,1046.7 L338.1,1047.6 L339.9,1048.5 L341.7,1049.3 L343.5,1050.2 L345.4,1051.0 L347.2,1051.8 L349.1,1052.5 L351.0,1053.2 L352.9,1054.0 L354.7,1054.6 L356.6,1055.3 L358.5,1056.0 L360.4,1056.6 L362.3,1057.3 L364.3,1057.9 L366.2,1058.5 L368.1,1059.1 L370.0,1059.6 L372.0,1060.2 L373.9,1060.8 L375.8,1061.4 L377.7,1061.9 L379.7,1062.5 L381.6,1063.0 L383.5,1063.6 L385.5,1064.1 L387.4,1064.6 L389.4,1065.2 L391.3,1065.7 L393.2,1066.2 L395.2,1066.7 L397.1,1067.2 L399.1,1067.8 L401.0,1068.3 L403.0,1068.8 L404.9,1069.3 L406.9,1069.8 L408.8,1070.2 L410.8,1070.7 L412.7,1071.2 L414.7,1071.7 L416.6,1072.2 L418.6,1072.7 L420.5,1073.2 L422.5,1073.6 L424.4,1074.1 L426.4,1074.6 L428.4,1075.0 L430.3,1075.5 L432.3,1075.9 L434.2,1076.4 L436.2,1076.9 L438.1,1077.3 L440.1,1077.8 L442.1,1078.2 L444.0,1078.6 L446.0,1079.1 L448.0,1079.5 L449.9,1079.9 L451.9,1080.4 L453.8,1080.8 L455.8,1081.2 L457.8,1081.6 L459.7,1082.1 L461.7,1082.5 L463.7,1082.9 L465.7,1083.3 L467.6,1083.7 L469.6,1084.1 L471.6,1084.5 L473.5,1084.9 L475.5,1085.3 L477.5,1085.7 L479.5,1086.1 L481.4,1086.5 L483.4,1086.9 L485.4,1087.2 L487.3,1087.6 L489.3,1088.0 L491.3,1088.4 L493.3,1088.7 L495.3,1089.1 L497.2,1089.5 L499.2,1089.8 L501.2,1090.2 L503.2,1090.5 L505.1,1090.9 L507.1,1091.2 L509.1,1091.6 L511.1,1091.9 L513.1,1092.3 L515.1,1092.6 L517.0,1092.9 L519.0,1093.3 L521.0,1093.6 L523.0,1093.9 L525.0,1094.2 L527.0,1094.6 L528.9,1094.9 L530.9,1095.2 L532.9,1095.5 L534.9,1095.8 L536.9,1096.1 L538.9,1096.4 L540.9,1096.7 L542.9,1097.0 L544.8,1097.3 L546.8,1097.6 L548.8,1097.9 L550.8,1098.2 L552.8,1098.5 L554.8,1098.7 L556.8,1099.0 L558.8,1099.3 L560.8,1099.6 L562.8,1099.8 L564.8,1100.1 L566.8,1100.4 L568.8,1100.6 L570.7,1100.9 L572.7,1101.1 L574.7,1101.4 L576.7,1101.6 L578.7,1101.9 L580.7,1102.1 L582.7,1102.4 L584.7,1102.6 L586.7,1102.8 L588.7,1103.1 L590.7,1103.3 L592.7,1103.5 L594.7,1103.8 L596.7,1104.0 L598.7,1104.2" fill="none" stroke="#3b4bd0" stroke-width="4.1" stroke-linecap="round" stroke-linejoin="round"/>
<path d="M228.3,793.1 L228.3,795.1 L228.3,797.1 L228.3,799.1 L228.3,801.1 L228.3,803.1 L228.3,805.2 L228.4,807.2 L228.5,809.2 L228.6,811.2 L228.7,813.2 L228.8,815.2 L229.0,817.2 L229.2,819.2 L229.3,821.2 L229.6,823.2 L229.8,825.2 L230.0,827.2 L230.3,829.2 L230.6,831.2 L230.8,833.2 L231.2,835.1 L231.5,837.1 L231.8,839.1 L232.2,841.1 L232.6,843.1 L233.0,845.0 L233.4,847.0 L233.8,849.0 L234.3,850.9 L234.7,852.9 L235.2,854.8 L235.7,856.8 L236.2,858.7 L236.7,860.7 L237.3,862.6 L237.8,864.5 L238.4,866.4 L239.0,868.4 L239.6,870.3 L240.2,872.2 L240.9,874.1 L241.5,876.0 L242.2,877.9 L242.9,879.8 L243.6,881.7 L244.3,883.5 L245.1,885.4 L245.8,887.3 L246.6,889.1 L247.4,891.0 L248.2,892.8 L249.0,894.6 L249.8,896.5 L250.7,898.3 L251.5,900.1 L252.4,901.9 L253.3,903.7 L254.2,905.5 L255.2,907.3 L256.1,909.1 L257.1,910.8 L258.0,912.6 L259.0,914.3 L260.0,916.1 L261.1,917.8 L262.1,919.5 L263.2,921.2 L264.2,922.9 L265.3,924.6 L266.4,926.3 L267.5,928.0 L268.6,929.7 L269.8,931.3 L270.9,933.0 L272.1,934.6 L273.3,936.2 L274.5,937.8 L275.7,939.4 L276.9,941.0 L278.1,942.6 L279.4,944.2 L280.6,945.8 L281.9,947.3 L283.2,948.9 L284.5,950.4 L285.8,951.9 L287.1,953.4 L288.5,954.9 L289.8,956.4 L291.2,957.9 L292.5,959.4 L293.9,960.8 L295.3,962.3 L296.7,963.7 L298.1,965.2 L299.6,966.6 L301.0,968.0 L302.4,969.4 L303.9,970.7 L305.4,972.1 L306.8,973.5 L308.3,974.8 L309.8,976.2 L311.3,977.5 L312.9,978.8 L314.4,980.1 L315.9,981.4 L317.5,982.7 L319.1,983.9 L320.6,985.2 L322.2,986.4 L323.8,987.7 L325.4,988.9 L327.0,990.1 L328.6,991.3 L330.2,992.5 L331.9,993.7 L333.5,994.8 L335.2,996.0 L336.8,997.1 L338.5,998.2 L340.1,999.3 L341.8,1000.4 L343.5,1001.5 L345.2,1002.6 L346.9,1003.7 L348.6,1004.7 L350.4,1005.7 L352.1,1006.8 L353.8,1007.8 L355.6,1008.8 L357.3,1009.8 L359.1,1010.8 L360.8,1011.7 L362.6,1012.7 L364.4,1013.6 L366.1,1014.6 L367.9,1015.5 L369.7,1016.4 L371.5,1017.3 L373.3,1018.2 L375.1,1019.1 L376.9,1019.9 L378.7,1020.8 L380.6,1021.7 L382.4,1022.5 L384.2,1023.3 L386.1,1024.2 L387.9,1025.0 L389.7,1025.8 L391.6,1026.6 L393.4,1027.4 L395.3,1028.1 L397.1,1028.9 L399.0,1029.7 L400.9,1030.4 L402.7,1031.2 L404.6,1031.9 L406.5,1032.6 L408.4,1033.3 L410.2,1034.1 L412.1,1034.8 L414.0,1035.5 L415.9,1036.1 L417.8,1036.8 L419.7,1037.5 L421.6,1038.2 L423.5,1038.8 L425.4,1039.5 L427.3,1040.1 L429.2,1040.8 L431.1,1041.4 L433.0,1042.1 L434.9,1042.7 L436.8,1043.3 L438.7,1043.9 L440.6,1044.5 L442.5,1045.1 L444.5,1045.7 L446.4,1046.3 L448.3,1046.9 L450.2,1047.5 L452.1,1048.1 L454.1,1048.7 L456.0,1049.2 L457.9,1049.8 L459.9,1050.4 L461.8,1050.9 L463.7,1051.5 L465.6,1052.0 L467.6,1052.6 L469.5,1053.1 L471.4,1053.7 L473.4,1054.2 L475.3,1054.7 L477.3,1055.3 L479.2,1055.8 L481.1,1056.3 L483.1,1056.8 L485.0,1057.4 L487.0,1057.9 L488.9,1058.4 L490.9,1058.9 L492.8,1059.4 L494.7,1059.9 L496.7,1060.4 L498.6,1060.9 L500.6,1061.4 L502.5,1061.8 L504.5,1062.3 L506.4,1062.8 L508.4,1063.3 L510.4,1063.7 L512.3,1064.2 L514.3,1064.7 L516.2,1065.1 L518.2,1065.6 L520.1,1066.0 L522.1,1066.5 L524.1,1066.9 L526.0,1067.4 L528.0,1067.8 L529.9,1068.3 L531.9,1068.7 L533.9,1069.1 L535.8,1069.5 L537.8,1070.0 L539.8,1070.4 L541.7,1070.8 L543.7,1071.2 L545.7,1071.6 L547.6,1072.0 L549.6,1072.4 L551.6,1072.8 L553.5,1073.2 L555.5,1073.6 L557.5,1074.0 L559.4,1074.4 L561.4,1074.8 L563.4,1075.2 L565.4,1075.6 L567.3,1075.9 L569.3,1076.3 L571.3,1076.7 L573.3,1077.0 L575.2,1077.4 L577.2,1077.8 L579.2,1078.1 L581.2,1078.5 L583.2,1078.8 L585.1,1079.2 L587.1,1079.5 L589.1,1079.9 L591.1,1080.2 L593.1,1080.5 L595.0,1080.9 L597.0,1081.2 L599.0,1081.5 L601.0,1081.9 L603.0,1082.2 L605.0,1082.5 L606.9,1082.8 L608.9,1083.2 L610.9,1083.5 L612.9,1083.8 L614.9,1084.1 L616.9,1084.4 L618.8,1084.7 L620.8,1085.0 L622.8,1085.3 L624.8,1085.6 L626.8,1085.9 L628.8,1086.2 L630.8,1086.5 L632.8,1086.8 L634.8,1087.0 L636.7,1087.3 L638.7,1087.6 L640.7,1087.9 L642.7,1088.1 L644.7,1088.4 L646.7,1088.7 L648.7,1089.0 L650.7,1089.2 L652.7,1089.5 L654.7,1089.7 L656.7,1090.0 L658.7,1090.3 L660.6,1090.5 L662.6,1090.8 L664.6,1091.0 L666.6,1091.3 L668.6,1091.5 L670.6,1091.7 L672.6,1092.0 L674.6,1092.2 L676.6,1092.5 L678.6,1092.7 L680.6,1092.9 L682.6,1093.2 L684.6,1093.4 L686.6,1093.6 L688.6,1093.8 L690.6,1094.1 L692.6,1094.3 L694.6,1094.5 L696.6,1094.7 L698.6,1094.9 L700.6,1095.2 L702.6,1095.4 L704.6,1095.6 L706.6,1095.8 L708.6,1096.0 L710.6,1096.2 L712.6,1096.4 L714.6,1096.6 L716.6,1096.8 L718.6,1097.0 L720.6,1097.2 L722.6,1097.4 L724.6,1097.6 L726.6,1097.8 L728.6,1098.0 L730.6,1098.1 L732.6,1098.3 L734.6,1098.5 L736.6,1098.7 L738.6,1098.9 L740.6,1099.1 L742.6,1099.2 L744.6,1099.4 L746.6,1099.6 L748.6,1099.8 L750.6,1099.9 L752.6,1100.1 L754.6,1100.3 L756.6,1100.4 L758.6,1100.6 L760.6,1100.8 L762.6,1100.9 L764.6,1101.1 L766.6,1101.3 L768.6,1101.4 L770.6,1101.6 L772.6,1101.7 L774.6,1101.9 L776.6,1102.1 L778.6,1102.2 L780.6,1102.4 L782.6,1102.5 L784.6,1102.7 L786.6,1102.8 L788.6,1103.0 L790.6,1103.1 L792.6,1103.3 L794.7,1103.4 L796.7,1103.5 L798.7,1103.7 L800.7,1103.8 L802.7,1104.0 L804.7,1104.1 L806.7,1104.3 L808.7,1104.4 L810.7,1104.5 L812.7,1104.7 L814.7,1104.8 L816.7,1104.9 L818.7,1105.1 L820.7,1105.2 L822.7,1105.3 L824.7,1105.5 L826.7,1105.6 L828.7,1105.7 L830.7,1105.9 L832.7,1106.0 L834.8,1106.1 L836.8,1106.2 L838.8,1106.4 L840.8,1106.5 L842.8,1106.6 L844.8,1106.7 L846.8,1106.9 L848.8,1107.0 L850.8,1107.1" fill="none" stroke="#519b56" stroke-width="4.1" stroke-linecap="round" stroke-linejoin="round"/>
<path d="M228.7,738.3 L228.7,740.3 L228.7,742.3 L228.7,744.3 L228.7,746.3 L228.7,748.3 L228.7,750.4 L228.7,752.4 L228.7,754.4 L228.7,756.4 L228.8,758.4 L228.9,760.4 L229.1,762.4 L229.2,764.4 L229.4,766.4 L229.6,768.4 L229.8,770.4 L230.0,772.4 L230.2,774.4 L230.5,776.4 L230.7,778.4 L231.0,780.4 L231.3,782.4 L231.6,784.3 L231.9,786.3 L232.3,788.3 L232.7,790.3 L233.0,792.3 L233.4,794.2 L233.9,796.2 L234.3,798.2 L234.7,800.1 L235.2,802.1 L235.7,804.0 L236.2,806.0 L236.7,807.9 L237.2,809.9 L237.7,811.8 L238.3,813.7 L238.9,815.6 L239.5,817.6 L240.1,819.5 L240.7,821.4 L241.3,823.3 L242.0,825.2 L242.6,827.1 L243.3,829.0 L244.0,830.9 L244.7,832.7 L245.5,834.6 L246.2,836.5 L246.9,838.4 L247.7,840.2 L248.5,842.1 L249.3,843.9 L250.1,845.7 L250.9,847.6 L251.8,849.4 L252.6,851.2 L253.5,853.0 L254.4,854.8 L255.3,856.6 L256.2,858.4 L257.1,860.2 L258.0,862.0 L259.0,863.8 L260.0,865.5 L260.9,867.3 L261.9,869.0 L262.9,870.8 L263.9,872.5 L265.0,874.2 L266.0,875.9 L267.1,877.7 L268.1,879.4 L269.2,881.1 L270.3,882.7 L271.4,884.4 L272.5,886.1 L273.6,887.8 L274.8,889.4 L275.9,891.1 L277.1,892.7 L278.3,894.3 L279.5,896.0 L280.7,897.6 L281.9,899.2 L283.1,900.8 L284.3,902.4 L285.5,903.9 L286.8,905.5 L288.1,907.1 L289.3,908.6 L290.6,910.2 L291.9,911.7 L293.2,913.3 L294.5,914.8 L295.8,916.3 L297.2,917.8 L298.5,919.3 L299.9,920.8 L301.2,922.2 L302.6,923.7 L304.0,925.2 L305.4,926.6 L306.8,928.1 L308.2,929.5 L309.6,930.9 L311.0,932.3 L312.5,933.7 L313.9,935.1 L315.4,936.5 L316.9,937.9 L318.3,939.2 L319.8,940.6 L321.3,941.9 L322.8,943.3 L324.3,944.6 L325.8,945.9 L327.4,947.2 L328.9,948.5 L330.4,949.8 L332.0,951.1 L333.6,952.3 L335.1,953.6 L336.7,954.8 L338.3,956.1 L339.9,957.3 L341.5,958.5 L343.1,959.7 L344.7,960.9 L346.3,962.1 L347.9,963.3 L349.6,964.5 L351.2,965.6 L352.9,966.8 L354.5,967.9 L356.2,969.1 L357.8,970.2 L359.5,971.3 L361.2,972.4 L362.9,973.5 L364.6,974.6 L366.3,975.7 L368.0,976.7 L369.7,977.8 L371.4,978.8 L373.1,979.9 L374.8,980.9 L376.6,981.9 L378.3,982.9 L380.0,983.9 L381.8,984.9 L383.5,985.9 L385.3,986.9 L387.0,987.9 L388.8,988.8 L390.6,989.8 L392.4,990.7 L394.1,991.7 L395.9,992.6 L397.7,993.5 L399.5,994.4 L401.3,995.3 L403.1,996.2 L404.9,997.1 L406.7,998.0 L408.5,998.9 L410.3,999.7 L412.1,1000.6 L414.0,1001.4 L415.8,1002.3 L417.6,1003.1 L419.4,1003.9 L421.3,1004.7 L423.1,1005.5 L425.0,1006.3 L426.8,1007.1 L428.7,1007.9 L430.5,1008.7 L432.4,1009.5 L434.2,1010.3 L436.1,1011.0 L437.9,1011.8 L439.8,1012.5 L441.7,1013.3 L443.5,1014.0 L445.4,1014.7 L447.3,1015.4 L449.2,1016.2 L451.0,1016.9 L452.9,1017.6 L454.8,1018.3 L456.7,1018.9 L458.6,1019.6 L460.5,1020.3 L462.4,1021.0 L464.3,1021.6 L466.2,1022.3 L468.1,1023.0 L470.0,1023.6 L471.9,1024.2 L473.8,1024.9 L475.7,1025.5 L477.6,1026.1 L479.5,1026.8 L481.4,1027.4 L483.3,1028.0 L485.3,1028.6 L487.2,1029.2 L489.1,1029.8 L491.0,1030.4 L492.9,1030.9 L494.9,1031.5 L496.8,1032.1 L498.7,1032.7 L500.6,1033.2 L502.6,1033.8 L504.5,1034.3 L506.4,1034.9 L508.4,1035.4 L510.3,1036.0 L512.2,1036.5 L514.2,1037.1 L516.1,1037.6 L518.1,1038.1 L520.0,1038.6 L521.9,1039.2 L523.9,1039.7 L525.8,1040.2 L527.8,1040.7 L529.7,1041.2 L531.7,1041.7 L533.6,1042.2 L535.6,1042.7 L537.5,1043.1 L539.5,1043.6 L541.4,1044.1 L543.4,1044.6 L545.3,1045.1 L547.3,1045.5 L549.2,1046.0 L551.2,1046.5 L553.1,1046.9 L555.1,1047.4 L557.0,1047.8 L559.0,1048.3 L561.0,1048.7 L562.9,1049.2 L564.9,1049.6 L566.8,1050.1 L568.8,1050.5 L570.8,1050.9 L572.7,1051.4 L574.7,1051.8 L576.7,1052.2 L578.6,1052.7 L580.6,1053.1 L582.5,1053.5 L584.5,1053.9 L586.5,1054.3 L588.4,1054.7 L590.4,1055.2 L592.4,1055.6 L594.3,1056.0 L596.3,1056.4 L598.3,1056.8 L600.3,1057.2 L602.2,1057.6 L604.2,1058.0 L606.2,1058.3 L608.1,1058.7 L610.1,1059.1 L612.1,1059.5 L614.1,1059.9 L616.0,1060.3 L618.0,1060.6 L620.0,1061.0 L621.9,1061.4 L623.9,1061.8 L625.9,1062.1 L627.9,1062.5 L629.9,1062.9 L631.8,1063.2 L633.8,1063.6 L635.8,1063.9 L637.8,1064.3 L639.7,1064.6 L641.7,1065.0 L643.7,1065.3 L645.7,1065.7 L647.7,1066.0 L649.6,1066.4 L651.6,1066.7 L653.6,1067.0 L655.6,1067.4 L657.6,1067.7 L659.5,1068.0 L661.5,1068.4 L663.5,1068.7 L665.5,1069.0 L667.5,1069.3 L669.5,1069.7 L671.4,1070.0 L673.4,1070.3 L675.4,1070.6 L677.4,1070.9 L679.4,1071.2 L681.4,1071.5 L683.3,1071.9 L685.3,1072.2 L687.3,1072.5 L689.3,1072.8 L691.3,1073.1 L693.3,1073.4 L695.3,1073.7 L697.3,1074.0 L699.2,1074.2 L701.2,1074.5 L703.2,1074.8 L705.2,1075.1 L707.2,1075.4 L709.2,1075.7 L711.2,1076.0 L713.2,1076.3 L715.2,1076.5 L717.1,1076.8 L719.1,1077.1 L721.1,1077.4 L723.1,1077.6 L725.1,1077.9 L727.1,1078.2 L729.1,1078.5 L731.1,1078.7 L733.1,1079.0 L735.1,1079.2 L737.1,1079.5 L739.0,1079.8 L741.0,1080.0 L743.0,1080.3 L745.0,1080.6 L747.0,1080.8 L749.0,1081.1 L751.0,1081.3 L753.0,1081.6 L755.0,1081.8 L757.0,1082.1 L759.0,1082.3 L761.0,1082.6 L763.0,1082.8 L765.0,1083.1 L767.0,1083.3 L768.9,1083.5 L770.9,1083.8 L772.9,1084.0 L774.9,1084.3 L776.9,1084.5 L778.9,1084.7 L780.9,1085.0 L782.9,1085.2 L784.9,1085.4 L786.9,1085.7 L788.9,1085.9 L790.9,1086.1 L792.9,1086.4 L794.9,1086.6 L796.9,1086.8 L798.9,1087.1 L800.9,1087.3 L802.9,1087.5 L804.9,1087.7 L806.9,1088.0 L808.9,1088.2 L810.9,1088.4 L812.9,1088.6 L814.9,1088.8 L816.9,1089.1 L818.9,1089.3 L820.8,1089.5 L822.8,1089.7 L824.8,1089.9 L826.8,1090.2 L828.8,1090.4 L830.8,1090.6 L832.8,1090.8 L834.8,1091.0 L836.8,1091.2 L838.8,1091.4 L840.8,1091.7 L842.8,1091.9 L844.8,1092.1 L846.8,1092.3 L848.8,1092.5 L850.8,1092.7" fill="none" stroke="#8c55d6" stroke-width="4.1" stroke-linecap="round" stroke-linejoin="round"/>
<path d="M228.6,686.6 L228.6,688.6 L228.6,690.6 L228.6,692.6 L228.6,694.6 L228.6,696.6 L228.6,698.7 L228.6,700.7 L228.6,702.7 L228.7,704.7 L228.8,706.7 L228.9,708.7 L229.0,710.7 L229.2,712.7 L229.3,714.7 L229.5,716.7 L229.7,718.7 L229.9,720.7 L230.1,722.7 L230.4,724.7 L230.6,726.7 L230.9,728.7 L231.2,730.7 L231.5,732.6 L231.8,734.6 L232.1,736.6 L232.5,738.6 L232.9,740.6 L233.2,742.5 L233.6,744.5 L234.1,746.5 L234.5,748.4 L234.9,750.4 L235.4,752.3 L235.9,754.3 L236.4,756.2 L236.9,758.2 L237.4,760.1 L237.9,762.0 L238.5,764.0 L239.1,765.9 L239.7,767.8 L240.2,769.7 L240.9,771.7 L241.5,773.6 L242.1,775.5 L242.8,777.4 L243.4,779.3 L244.1,781.2 L244.8,783.0 L245.5,784.9 L246.3,786.8 L247.0,788.7 L247.7,790.5 L248.5,792.4 L249.3,794.2 L250.1,796.1 L250.9,797.9 L251.7,799.8 L252.5,801.6 L253.4,803.4 L254.2,805.2 L255.1,807.0 L256.0,808.8 L256.9,810.6 L257.8,812.4 L258.7,814.2 L259.6,816.0 L260.6,817.8 L261.5,819.5 L262.5,821.3 L263.5,823.1 L264.4,824.8 L265.4,826.5 L266.5,828.3 L267.5,830.0 L268.5,831.7 L269.6,833.4 L270.6,835.2 L271.7,836.9 L272.8,838.5 L273.9,840.2 L275.0,841.9 L276.1,843.6 L277.2,845.2 L278.3,846.9 L279.5,848.6 L280.6,850.2 L281.8,851.8 L283.0,853.5 L284.2,855.1 L285.4,856.7 L286.6,858.3 L287.8,859.9 L289.0,861.5 L290.2,863.1 L291.5,864.7 L292.7,866.2 L294.0,867.8 L295.3,869.3 L296.6,870.9 L297.9,872.4 L299.2,873.9 L300.5,875.5 L301.8,877.0 L303.1,878.5 L304.5,880.0 L305.8,881.5 L307.2,882.9 L308.5,884.4 L309.9,885.9 L311.3,887.3 L312.7,888.8 L314.1,890.2 L315.5,891.6 L316.9,893.1 L318.4,894.5 L319.8,895.9 L321.2,897.3 L322.7,898.7 L324.2,900.0 L325.6,901.4 L327.1,902.8 L328.6,904.1 L330.1,905.5 L331.6,906.8 L333.1,908.1 L334.6,909.4 L336.1,910.7 L337.7,912.0 L339.2,913.3 L340.8,914.6 L342.3,915.9 L343.9,917.1 L345.4,918.4 L347.0,919.6 L348.6,920.9 L350.2,922.1 L351.8,923.3 L353.4,924.5 L355.0,925.7 L356.6,926.9 L358.2,928.1 L359.8,929.3 L361.5,930.5 L363.1,931.6 L364.8,932.8 L366.4,933.9 L368.1,935.1 L369.7,936.2 L371.4,937.3 L373.1,938.4 L374.7,939.6 L376.4,940.6 L378.1,941.7 L379.8,942.8 L381.5,943.9 L383.2,945.0 L384.9,946.0 L386.6,947.1 L388.3,948.1 L390.1,949.1 L391.8,950.2 L393.5,951.2 L395.3,952.2 L397.0,953.2 L398.7,954.2 L400.5,955.2 L402.2,956.2 L404.0,957.2 L405.7,958.1 L407.5,959.1 L409.3,960.0 L411.1,961.0 L412.8,961.9 L414.6,962.9 L416.4,963.8 L418.2,964.7 L420.0,965.6 L421.8,966.5 L423.6,967.4 L425.4,968.3 L427.2,969.2 L429.0,970.1 L430.8,971.0 L432.6,971.8 L434.4,972.7 L436.2,973.5 L438.0,974.4 L439.9,975.2 L441.7,976.1 L443.5,976.9 L445.3,977.7 L447.2,978.5 L449.0,979.3 L450.9,980.1 L452.7,980.9 L454.5,981.7 L456.4,982.5 L458.2,983.3 L460.1,984.1 L461.9,984.9 L463.8,985.6 L465.7,986.4 L467.5,987.1 L469.4,987.9 L471.3,988.6 L473.1,989.4 L475.0,990.1 L476.9,990.8 L478.7,991.6 L480.6,992.3 L482.5,993.0 L484.4,993.7 L486.3,994.4 L488.1,995.1 L490.0,995.8 L491.9,996.5 L493.8,997.2 L495.7,997.8 L497.6,998.5 L499.5,999.2 L501.4,999.9 L503.3,1000.5 L505.2,1001.2 L507.1,1001.8 L509.0,1002.5 L510.9,1003.1 L512.8,1003.8 L514.7,1004.4 L516.6,1005.0 L518.5,1005.7 L520.4,1006.3 L522.3,1006.9 L524.2,1007.5 L526.1,1008.1 L528.0,1008.8 L530.0,1009.4 L531.9,1010.0 L533.8,1010.6 L535.7,1011.2 L537.6,1011.7 L539.5,1012.3 L541.5,1012.9 L543.4,1013.5 L545.3,1014.1 L547.2,1014.6 L549.2,1015.2 L551.1,1015.8 L553.0,1016.3 L555.0,1016.9 L556.9,1017.4 L558.8,1018.0 L560.7,1018.5 L562.7,1019.1 L564.6,1019.6 L566.5,1020.2 L568.5,1020.7 L570.4,1021.2 L572.4,1021.7 L574.3,1022.3 L576.2,1022.8 L578.2,1023.3 L580.1,1023.8 L582.1,1024.3 L584.0,1024.8 L586.0,1025.3 L587.9,1025.8 L589.8,1026.3 L591.8,1026.8 L593.7,1027.3 L595.7,1027.8 L597.6,1028.3 L599.6,1028.8 L601.5,1029.2 L603.5,1029.7 L605.4,1030.2 L607.4,1030.7 L609.4,1031.1 L611.3,1031.6 L613.3,1032.0 L615.2,1032.5 L617.2,1032.9 L619.1,1033.4 L621.1,1033.8 L623.1,1034.3 L625.0,1034.7 L627.0,1035.2 L628.9,1035.6 L630.9,1036.0 L632.9,1036.5 L634.8,1036.9 L636.8,1037.3 L638.7,1037.7 L640.7,1038.2 L642.7,1038.6 L644.6,1039.0 L646.6,1039.4 L648.6,1039.8 L650.5,1040.2 L652.5,1040.6 L654.5,1041.0 L656.4,1041.4 L658.4,1041.8 L660.4,1042.2 L662.4,1042.6 L664.3,1043.0 L666.3,1043.4 L668.3,1043.8 L670.2,1044.1 L672.2,1044.5 L674.2,1044.9 L676.2,1045.3 L678.1,1045.6 L680.1,1046.0 L682.1,1046.4 L684.1,1046.8 L686.0,1047.1 L688.0,1047.5 L690.0,1047.8 L692.0,1048.2 L693.9,1048.6 L695.9,1048.9 L697.9,1049.3 L699.9,1049.6 L701.8,1050.0 L703.8,1050.3 L705.8,1050.7 L707.8,1051.0 L709.8,1051.3 L711.7,1051.7 L713.7,1052.0 L715.7,1052.3 L717.7,1052.7 L719.7,1053.0 L721.6,1053.3 L723.6,1053.7 L725.6,1054.0 L727.6,1054.3 L729.6,1054.6 L731.5,1055.0 L733.5,1055.3 L735.5,1055.6 L737.5,1055.9 L739.5,1056.2 L741.5,1056.6 L743.4,1056.9 L745.4,1057.2 L747.4,1057.5 L749.4,1057.8 L751.4,1058.1 L753.4,1058.4 L755.4,1058.7 L757.3,1059.0 L759.3,1059.3 L761.3,1059.6 L763.3,1059.9 L765.3,1060.2 L767.3,1060.5 L769.3,1060.8 L771.2,1061.1 L773.2,1061.4 L775.2,1061.7 L777.2,1062.0 L779.2,1062.3 L781.2,1062.6 L783.2,1062.9 L785.2,1063.2 L787.1,1063.5 L789.1,1063.7 L791.1,1064.0 L793.1,1064.3 L795.1,1064.6 L797.1,1064.9 L799.1,1065.2 L801.1,1065.4 L803.0,1065.7 L805.0,1066.0 L807.0,1066.3 L809.0,1066.6 L811.0,1066.9 L813.0,1067.1 L815.0,1067.4 L817.0,1067.7 L819.0,1068.0 L820.9,1068.2 L822.9,1068.5 L824.9,1068.8 L826.9,1069.1 L828.9,1069.3 L830.9,1069.6 L832.9,1069.9 L834.9,1070.2 L836.9,1070.4 L838.9,1070.7 L840.8,1071.0 L842.8,1071.3 L844.8,1071.5 L846.8,1071.8 L848.8,1072.1 L850.8,1072.4" fill="none" stroke="#b08a1e" stroke-width="4.1" stroke-linecap="round" stroke-linejoin="round"/>
<path d="M228.10,1160.65V1145.65M290.62,1160.65V1154.65M353.15,1160.65V1145.65M415.68,1160.65V1154.65M478.20,1160.65V1145.65M540.73,1160.65V1154.65M603.25,1160.65V1145.65M665.77,1160.65V1154.65M728.30,1160.65V1145.65M790.83,1160.65V1154.65M212.65,1135.80H227.65M212.65,1017.87H227.65M212.65,899.94H227.65M212.65,782.01H227.65M212.65,664.08H227.65M212.65,1076.84H218.65M212.65,958.90H218.65M212.65,840.97H218.65M212.65,723.04H218.65" stroke="#000" stroke-width="3.4" fill="none"/>
<rect x="212.65" y="644.25" width="640.90" height="516.40" fill="none" stroke="#000" stroke-width="3.6"/>
<text x="196.5" y="1151.6" font-size="52" text-anchor="end">0.000</text>
<text x="196.5" y="1033.7" font-size="52" text-anchor="end">−0.003</text>
<text x="196.5" y="915.7" font-size="52" text-anchor="end">−0.006</text>
<text x="196.5" y="797.8" font-size="52" text-anchor="end">−0.009</text>
<text x="196.5" y="679.9" font-size="52" text-anchor="end">−0.012</text>
<text x="228.1" y="1217.5" font-size="52" text-anchor="middle">0</text>
<text x="353.1" y="1217.5" font-size="52" text-anchor="middle">20</text>
<text x="478.2" y="1217.5" font-size="52" text-anchor="middle">40</text>
<text x="603.2" y="1217.5" font-size="52" text-anchor="middle">60</text>
<text x="728.3" y="1217.5" font-size="52" text-anchor="middle">80</text>
<text x="460.5" y="1282.3" font-size="52">Time (s)</text>
<text transform="translate(36.4,987.6) rotate(-90)" font-size="51">ΔG (μS)</text>
<text x="282.3" y="731.3" font-size="52">(c)</text>
<text x="562.8" y="907.9" font-size="59.5">60°</text>
<path d="M1092.6,1026.0 L1092.7,1028.1 L1092.7,1030.1 L1092.8,1032.2 L1092.9,1034.2 L1093.0,1036.3 L1093.1,1038.3 L1093.3,1040.4 L1093.5,1042.4 L1093.6,1044.4 L1093.8,1046.5 L1094.1,1048.5 L1094.3,1050.6 L1094.6,1052.6 L1094.9,1054.6 L1095.3,1056.6 L1095.6,1058.7 L1096.0,1060.7 L1096.5,1062.7 L1096.9,1064.7 L1097.4,1066.7 L1098.0,1068.6 L1098.6,1070.6 L1099.2,1072.6 L1099.9,1074.5 L1100.6,1076.4 L1101.3,1078.3 L1102.1,1080.2 L1103.0,1082.1 L1103.9,1083.9 L1104.8,1085.8 L1105.8,1087.5 L1106.9,1089.3 L1108.0,1091.0 L1109.2,1092.7 L1110.4,1094.4 L1111.6,1096.0 L1113.0,1097.6 L1114.3,1099.1 L1115.7,1100.6 L1117.2,1102.1 L1118.6,1103.5 L1120.2,1104.9 L1121.7,1106.2 L1123.4,1107.4 L1125.0,1108.7 L1126.7,1109.8 L1128.4,1110.9 L1130.2,1112.0 L1132.0,1113.0 L1133.8,1113.9 L1135.7,1114.8 L1137.5,1115.6 L1139.4,1116.4 L1141.4,1117.1 L1143.3,1117.8 L1145.3,1118.4 L1147.3,1118.9 L1149.3,1119.3 L1151.3,1119.8 L1153.3,1120.1 L1155.3,1120.4" fill="none" stroke="#3d3d3d" stroke-width="4.1" stroke-linecap="round" stroke-linejoin="round"/>
<path d="M1092.9,994.3 L1093.1,996.3 L1093.3,998.3 L1093.4,1000.4 L1093.5,1002.4 L1093.7,1004.4 L1093.8,1006.4 L1093.9,1008.4 L1094.0,1010.5 L1094.2,1012.5 L1094.3,1014.5 L1094.4,1016.5 L1094.6,1018.5 L1094.8,1020.6 L1095.0,1022.6 L1095.2,1024.6 L1095.4,1026.6 L1095.7,1028.6 L1096.0,1030.6 L1096.4,1032.6 L1096.8,1034.6 L1097.2,1036.6 L1097.7,1038.5 L1098.2,1040.5 L1098.8,1042.4 L1099.5,1044.3 L1100.2,1046.2 L1100.9,1048.1 L1101.7,1050.0 L1102.6,1051.8 L1103.5,1053.6 L1104.5,1055.4 L1105.5,1057.1 L1106.6,1058.8 L1107.7,1060.5 L1108.9,1062.2 L1110.1,1063.8 L1111.4,1065.4 L1112.7,1066.9 L1114.1,1068.4 L1115.5,1069.9 L1116.9,1071.3 L1118.4,1072.6 L1120.0,1074.0 L1121.5,1075.2 L1123.1,1076.5 L1124.8,1077.6 L1126.5,1078.8 L1128.2,1079.9 L1129.9,1080.9 L1131.7,1081.9 L1133.5,1082.8 L1135.3,1083.8 L1137.1,1084.6 L1138.9,1085.5 L1140.8,1086.3 L1142.7,1087.0 L1144.6,1087.8 L1146.5,1088.5 L1148.4,1089.1 L1150.3,1089.8 L1152.2,1090.4 L1154.2,1091.0 L1156.1,1091.6 L1158.0,1092.1 L1160.0,1092.7 L1162.0,1093.2 L1163.9,1093.7 L1165.9,1094.2 L1167.9,1094.6 L1169.8,1095.1 L1171.8,1095.5 L1173.8,1096.0 L1175.8,1096.4 L1177.7,1096.8 L1179.7,1097.3 L1181.7,1097.7 L1183.7,1098.1 L1185.7,1098.5 L1187.6,1098.9 L1189.6,1099.4 L1191.6,1099.8 L1193.6,1100.2 L1195.6,1100.6 L1197.5,1101.0 L1199.5,1101.5 L1201.5,1101.9 L1203.5,1102.3 L1205.5,1102.7 L1207.5,1103.1 L1209.4,1103.5 L1211.4,1103.9 L1213.4,1104.2 L1215.4,1104.6 L1217.4,1104.9 L1219.4,1105.3 L1221.4,1105.6 L1223.4,1105.9 L1225.4,1106.2 L1227.4,1106.4 L1229.4,1106.7 L1231.5,1106.9 L1233.5,1107.1 L1235.5,1107.2 L1237.5,1107.4" fill="none" stroke="#c1303a" stroke-width="4.1" stroke-linecap="round" stroke-linejoin="round"/>
<path d="M1092.9,899.3 L1093.0,901.3 L1093.0,903.3 L1093.1,905.4 L1093.2,907.4 L1093.2,909.4 L1093.3,911.4 L1093.4,913.4 L1093.5,915.4 L1093.6,917.5 L1093.7,919.5 L1093.9,921.5 L1094.0,923.5 L1094.2,925.5 L1094.3,927.5 L1094.5,929.5 L1094.7,931.5 L1094.9,933.5 L1095.2,935.6 L1095.5,937.6 L1095.7,939.6 L1096.0,941.5 L1096.4,943.5 L1096.7,945.5 L1097.1,947.5 L1097.5,949.5 L1098.0,951.5 L1098.4,953.4 L1098.9,955.4 L1099.4,957.3 L1100.0,959.3 L1100.6,961.2 L1101.2,963.1 L1101.9,965.0 L1102.6,966.9 L1103.3,968.8 L1104.1,970.6 L1104.9,972.5 L1105.8,974.3 L1106.6,976.1 L1107.5,977.9 L1108.5,979.7 L1109.5,981.5 L1110.5,983.3 L1111.5,985.0 L1112.6,986.7 L1113.7,988.4 L1114.8,990.1 L1115.9,991.7 L1117.1,993.4 L1118.3,995.0 L1119.5,996.6 L1120.8,998.2 L1122.1,999.7 L1123.4,1001.3 L1124.7,1002.8 L1126.1,1004.3 L1127.4,1005.8 L1128.8,1007.2 L1130.2,1008.7 L1131.7,1010.1 L1133.1,1011.5 L1134.6,1012.9 L1136.1,1014.2 L1137.6,1015.6 L1139.1,1016.9 L1140.7,1018.2 L1142.2,1019.5 L1143.8,1020.7 L1145.4,1022.0 L1147.0,1023.2 L1148.7,1024.4 L1150.3,1025.5 L1152.0,1026.7 L1153.6,1027.8 L1155.3,1028.9 L1157.0,1030.0 L1158.7,1031.1 L1160.4,1032.2 L1162.2,1033.2 L1163.9,1034.2 L1165.7,1035.2 L1167.4,1036.2 L1169.2,1037.1 L1171.0,1038.1 L1172.8,1039.0 L1174.6,1039.9 L1176.4,1040.8 L1178.2,1041.7 L1180.0,1042.6 L1181.9,1043.4 L1183.7,1044.3 L1185.6,1045.1 L1187.4,1045.9 L1189.3,1046.7 L1191.1,1047.5 L1193.0,1048.2 L1194.9,1049.0 L1196.7,1049.7 L1198.6,1050.5 L1200.5,1051.2 L1202.4,1051.9 L1204.3,1052.6 L1206.2,1053.3 L1208.1,1054.0 L1210.0,1054.6 L1211.9,1055.3 L1213.8,1056.0 L1215.7,1056.6 L1217.6,1057.2 L1219.5,1057.9 L1221.5,1058.5 L1223.4,1059.1 L1225.3,1059.7 L1227.2,1060.3 L1229.2,1060.9 L1231.1,1061.5 L1233.0,1062.1 L1234.9,1062.7 L1236.9,1063.3 L1238.8,1063.9 L1240.7,1064.4 L1242.7,1065.0 L1244.6,1065.6 L1246.6,1066.1 L1248.5,1066.7 L1250.5,1067.2 L1252.4,1067.8 L1254.3,1068.3 L1256.3,1068.8 L1258.2,1069.3 L1260.2,1069.9 L1262.1,1070.4 L1264.1,1070.9 L1266.0,1071.4 L1268.0,1071.9 L1270.0,1072.4 L1271.9,1072.9 L1273.9,1073.4 L1275.8,1073.8 L1277.8,1074.3 L1279.8,1074.8 L1281.7,1075.3 L1283.7,1075.7 L1285.7,1076.2 L1287.6,1076.6 L1289.6,1077.1 L1291.6,1077.5 L1293.5,1078.0 L1295.5,1078.4 L1297.5,1078.8 L1299.4,1079.3 L1301.4,1079.7 L1303.4,1080.1 L1305.4,1080.5 L1307.3,1081.0 L1309.3,1081.4 L1311.3,1081.8 L1313.3,1082.2 L1315.2,1082.6 L1317.2,1083.0 L1319.2,1083.4 L1321.2,1083.8 L1323.2,1084.1 L1325.1,1084.5 L1327.1,1084.9 L1329.1,1085.3 L1331.1,1085.7 L1333.1,1086.0 L1335.1,1086.4 L1337.1,1086.8 L1339.0,1087.1 L1341.0,1087.5 L1343.0,1087.8 L1345.0,1088.2 L1347.0,1088.5 L1349.0,1088.9 L1351.0,1089.2 L1353.0,1089.6 L1354.9,1089.9 L1356.9,1090.2 L1358.9,1090.6 L1360.9,1090.9 L1362.9,1091.2 L1364.9,1091.6 L1366.9,1091.9 L1368.9,1092.2 L1370.9,1092.5 L1372.9,1092.8 L1374.9,1093.2 L1376.9,1093.5 L1378.9,1093.8 L1380.8,1094.1 L1382.8,1094.4 L1384.8,1094.7 L1386.8,1095.0 L1388.8,1095.3 L1390.8,1095.6 L1392.8,1095.9 L1394.8,1096.2 L1396.8,1096.5 L1398.8,1096.8 L1400.8,1097.1" fill="none" stroke="#3b4bd0" stroke-width="4.1" stroke-linecap="round" stroke-linejoin="round"/>
<path d="M1092.9,821.3 L1092.9,823.3 L1092.9,825.3 L1092.9,827.3 L1092.9,829.3 L1092.9,831.3 L1092.9,833.4 L1092.9,835.4 L1093.0,837.4 L1093.1,839.4 L1093.2,841.4 L1093.3,843.4 L1093.5,845.4 L1093.7,847.4 L1093.9,849.4 L1094.2,851.4 L1094.5,853.4 L1094.7,855.4 L1095.0,857.3 L1095.4,859.3 L1095.7,861.3 L1096.1,863.3 L1096.5,865.2 L1096.9,867.2 L1097.4,869.2 L1097.8,871.1 L1098.3,873.1 L1098.8,875.0 L1099.4,876.9 L1099.9,878.9 L1100.5,880.8 L1101.1,882.7 L1101.7,884.6 L1102.3,886.5 L1103.0,888.4 L1103.7,890.3 L1104.4,892.2 L1105.1,894.1 L1105.9,895.9 L1106.6,897.8 L1107.4,899.6 L1108.2,901.5 L1109.1,903.3 L1109.9,905.1 L1110.8,906.9 L1111.7,908.7 L1112.6,910.5 L1113.6,912.3 L1114.5,914.0 L1115.5,915.8 L1116.5,917.5 L1117.5,919.3 L1118.6,921.0 L1119.6,922.7 L1120.7,924.4 L1121.8,926.1 L1122.9,927.7 L1124.1,929.4 L1125.2,931.0 L1126.4,932.7 L1127.6,934.3 L1128.8,935.9 L1130.0,937.5 L1131.2,939.1 L1132.5,940.7 L1133.7,942.2 L1135.0,943.8 L1136.3,945.3 L1137.6,946.8 L1139.0,948.3 L1140.3,949.8 L1141.6,951.3 L1143.0,952.8 L1144.4,954.3 L1145.8,955.7 L1147.2,957.1 L1148.6,958.6 L1150.0,960.0 L1151.5,961.4 L1152.9,962.8 L1154.4,964.1 L1155.9,965.5 L1157.3,966.9 L1158.8,968.2 L1160.3,969.5 L1161.9,970.8 L1163.4,972.1 L1164.9,973.4 L1166.5,974.7 L1168.0,976.0 L1169.6,977.2 L1171.2,978.5 L1172.8,979.7 L1174.4,980.9 L1176.0,982.1 L1177.6,983.3 L1179.2,984.5 L1180.8,985.7 L1182.5,986.9 L1184.1,988.0 L1185.8,989.1 L1187.4,990.3 L1189.1,991.4 L1190.8,992.5 L1192.5,993.6 L1194.2,994.7 L1195.9,995.7 L1197.6,996.8 L1199.3,997.8 L1201.0,998.9 L1202.7,999.9 L1204.5,1000.9 L1206.2,1001.9 L1208.0,1002.9 L1209.7,1003.9 L1211.5,1004.9 L1213.2,1005.8 L1215.0,1006.8 L1216.8,1007.7 L1218.6,1008.7 L1220.3,1009.6 L1222.1,1010.5 L1223.9,1011.4 L1225.7,1012.3 L1227.5,1013.2 L1229.3,1014.0 L1231.2,1014.9 L1233.0,1015.7 L1234.8,1016.6 L1236.6,1017.4 L1238.5,1018.2 L1240.3,1019.1 L1242.1,1019.9 L1244.0,1020.7 L1245.8,1021.4 L1247.7,1022.2 L1249.5,1023.0 L1251.4,1023.8 L1253.3,1024.5 L1255.1,1025.3 L1257.0,1026.0 L1258.9,1026.7 L1260.7,1027.4 L1262.6,1028.2 L1264.5,1028.9 L1266.4,1029.6 L1268.3,1030.3 L1270.2,1030.9 L1272.0,1031.6 L1273.9,1032.3 L1275.8,1032.9 L1277.7,1033.6 L1279.6,1034.3 L1281.5,1034.9 L1283.4,1035.5 L1285.3,1036.2 L1287.3,1036.8 L1289.2,1037.4 L1291.1,1038.0 L1293.0,1038.6 L1294.9,1039.2 L1296.8,1039.8 L1298.8,1040.4 L1300.7,1041.0 L1302.6,1041.6 L1304.5,1042.1 L1306.5,1042.7 L1308.4,1043.3 L1310.3,1043.8 L1312.2,1044.4 L1314.2,1044.9 L1316.1,1045.4 L1318.1,1046.0 L1320.0,1046.5 L1321.9,1047.0 L1323.9,1047.6 L1325.8,1048.1 L1327.7,1048.6 L1329.7,1049.1 L1331.6,1049.6 L1333.6,1050.1 L1335.5,1050.6 L1337.5,1051.1 L1339.4,1051.6 L1341.4,1052.1 L1343.3,1052.6 L1345.3,1053.1 L1347.2,1053.6 L1349.2,1054.1 L1351.1,1054.6 L1353.1,1055.0 L1355.0,1055.5 L1357.0,1056.0 L1358.9,1056.4 L1360.9,1056.9 L1362.8,1057.4 L1364.8,1057.8 L1366.7,1058.3 L1368.7,1058.8 L1370.6,1059.2 L1372.6,1059.7 L1374.6,1060.1 L1376.5,1060.6 L1378.5,1061.0 L1380.4,1061.5 L1382.4,1061.9 L1384.3,1062.4 L1386.3,1062.8 L1388.3,1063.3 L1390.2,1063.7 L1392.2,1064.2 L1394.1,1064.6 L1396.1,1065.0 L1398.1,1065.5 L1400.0,1065.9 L1402.0,1066.3 L1403.9,1066.8 L1405.9,1067.2 L1407.9,1067.6 L1409.8,1068.0 L1411.8,1068.5 L1413.8,1068.9 L1415.7,1069.3 L1417.7,1069.7 L1419.7,1070.1 L1421.6,1070.6 L1423.6,1071.0 L1425.6,1071.4 L1427.5,1071.8 L1429.5,1072.2 L1431.5,1072.6 L1433.4,1073.0 L1435.4,1073.4 L1437.4,1073.8 L1439.3,1074.2 L1441.3,1074.6 L1443.3,1074.9 L1445.3,1075.3 L1447.2,1075.7 L1449.2,1076.1 L1451.2,1076.5 L1453.1,1076.9 L1455.1,1077.2 L1457.1,1077.6 L1459.1,1078.0 L1461.0,1078.3 L1463.0,1078.7 L1465.0,1079.1 L1467.0,1079.4 L1468.9,1079.8 L1470.9,1080.1 L1472.9,1080.5 L1474.9,1080.8 L1476.9,1081.2 L1478.8,1081.5 L1480.8,1081.9 L1482.8,1082.2 L1484.8,1082.6 L1486.8,1082.9 L1488.7,1083.2 L1490.7,1083.6 L1492.7,1083.9 L1494.7,1084.2 L1496.7,1084.5 L1498.6,1084.8 L1500.6,1085.2 L1502.6,1085.5 L1504.6,1085.8 L1506.6,1086.1 L1508.6,1086.4 L1510.6,1086.7 L1512.5,1087.0 L1514.5,1087.3 L1516.5,1087.6 L1518.5,1087.9 L1520.5,1088.2 L1522.5,1088.4 L1524.5,1088.7 L1526.5,1089.0 L1528.4,1089.3 L1530.4,1089.6 L1532.4,1089.8 L1534.4,1090.1 L1536.4,1090.4 L1538.4,1090.6 L1540.4,1090.9 L1542.4,1091.1 L1544.4,1091.4 L1546.4,1091.6 L1548.4,1091.9 L1550.4,1092.1 L1552.4,1092.4 L1554.3,1092.6 L1556.3,1092.8 L1558.3,1093.1 L1560.3,1093.3 L1562.3,1093.5 L1564.3,1093.7 L1566.3,1093.9 L1568.3,1094.2 L1570.3,1094.4 L1572.3,1094.6 L1574.3,1094.8 L1576.3,1095.0 L1578.3,1095.2 L1580.3,1095.4 L1582.3,1095.6 L1584.3,1095.7 L1586.3,1095.9 L1588.3,1096.1 L1590.3,1096.3" fill="none" stroke="#519b56" stroke-width="4.1" stroke-linecap="round" stroke-linejoin="round"/>
<path d="M1093.0,759.8 L1093.0,761.8 L1093.0,763.8 L1093.0,765.8 L1093.0,767.8 L1093.0,769.9 L1093.1,771.9 L1093.2,773.9 L1093.3,775.9 L1093.4,777.9 L1093.6,779.9 L1093.7,781.9 L1093.9,783.9 L1094.1,785.9 L1094.4,787.9 L1094.6,789.9 L1094.9,791.9 L1095.2,793.9 L1095.5,795.8 L1095.9,797.8 L1096.2,799.8 L1096.6,801.8 L1097.0,803.7 L1097.4,805.7 L1097.9,807.7 L1098.3,809.6 L1098.8,811.6 L1099.3,813.5 L1099.9,815.5 L1100.4,817.4 L1101.0,819.3 L1101.5,821.2 L1102.2,823.2 L1102.8,825.1 L1103.4,827.0 L1104.1,828.9 L1104.8,830.8 L1105.5,832.7 L1106.2,834.5 L1106.9,836.4 L1107.7,838.3 L1108.4,840.1 L1109.2,842.0 L1110.1,843.8 L1110.9,845.6 L1111.7,847.5 L1112.6,849.3 L1113.5,851.1 L1114.4,852.9 L1115.3,854.7 L1116.2,856.4 L1117.2,858.2 L1118.2,860.0 L1119.2,861.7 L1120.2,863.4 L1121.2,865.2 L1122.2,866.9 L1123.3,868.6 L1124.4,870.3 L1125.5,872.0 L1126.6,873.7 L1127.7,875.3 L1128.8,877.0 L1130.0,878.6 L1131.2,880.3 L1132.3,881.9 L1133.5,883.5 L1134.7,885.1 L1136.0,886.7 L1137.2,888.3 L1138.5,889.9 L1139.7,891.4 L1141.0,893.0 L1142.3,894.5 L1143.6,896.1 L1144.9,897.6 L1146.2,899.1 L1147.6,900.6 L1148.9,902.1 L1150.3,903.6 L1151.6,905.0 L1153.0,906.5 L1154.4,907.9 L1155.8,909.4 L1157.2,910.8 L1158.7,912.2 L1160.1,913.6 L1161.5,915.0 L1163.0,916.4 L1164.5,917.8 L1165.9,919.2 L1167.4,920.5 L1168.9,921.9 L1170.4,923.2 L1171.9,924.5 L1173.4,925.9 L1174.9,927.2 L1176.5,928.5 L1178.0,929.8 L1179.6,931.0 L1181.1,932.3 L1182.7,933.6 L1184.3,934.8 L1185.8,936.1 L1187.4,937.3 L1189.0,938.5 L1190.6,939.8 L1192.2,941.0 L1193.8,942.2 L1195.5,943.4 L1197.1,944.5 L1198.7,945.7 L1200.3,946.9 L1202.0,948.0 L1203.6,949.2 L1205.3,950.3 L1207.0,951.5 L1208.6,952.6 L1210.3,953.7 L1212.0,954.8 L1213.7,955.9 L1215.3,957.0 L1217.0,958.1 L1218.7,959.2 L1220.4,960.2 L1222.1,961.3 L1223.9,962.3 L1225.6,963.4 L1227.3,964.4 L1229.0,965.5 L1230.7,966.5 L1232.5,967.5 L1234.2,968.5 L1236.0,969.5 L1237.7,970.5 L1239.5,971.5 L1241.2,972.5 L1243.0,973.4 L1244.7,974.4 L1246.5,975.4 L1248.3,976.3 L1250.1,977.3 L1251.8,978.2 L1253.6,979.1 L1255.4,980.0 L1257.2,980.9 L1259.0,981.9 L1260.8,982.8 L1262.6,983.6 L1264.4,984.5 L1266.2,985.4 L1268.0,986.3 L1269.8,987.1 L1271.6,988.0 L1273.5,988.9 L1275.3,989.7 L1277.1,990.5 L1278.9,991.4 L1280.8,992.2 L1282.6,993.0 L1284.5,993.8 L1286.3,994.6 L1288.1,995.4 L1290.0,996.2 L1291.8,997.0 L1293.7,997.8 L1295.5,998.6 L1297.4,999.3 L1299.3,1000.1 L1301.1,1000.8 L1303.0,1001.6 L1304.9,1002.3 L1306.7,1003.1 L1308.6,1003.8 L1310.5,1004.5 L1312.4,1005.2 L1314.2,1006.0 L1316.1,1006.7 L1318.0,1007.4 L1319.9,1008.1 L1321.8,1008.7 L1323.7,1009.4 L1325.6,1010.1 L1327.5,1010.8 L1329.3,1011.5 L1331.2,1012.1 L1333.1,1012.8 L1335.0,1013.4 L1336.9,1014.1 L1338.9,1014.7 L1340.8,1015.4 L1342.7,1016.0 L1344.6,1016.6 L1346.5,1017.2 L1348.4,1017.9 L1350.3,1018.5 L1352.2,1019.1 L1354.2,1019.7 L1356.1,1020.3 L1358.0,1020.9 L1359.9,1021.5 L1361.8,1022.0 L1363.8,1022.6 L1365.7,1023.2 L1367.6,1023.8 L1369.5,1024.3 L1371.5,1024.9 L1373.4,1025.5 L1375.3,1026.0 L1377.3,1026.6 L1379.2,1027.1 L1381.1,1027.6 L1383.1,1028.2 L1385.0,1028.7 L1387.0,1029.2 L1388.9,1029.8 L1390.8,1030.3 L1392.8,1030.8 L1394.7,1031.3 L1396.7,1031.8 L1398.6,1032.4 L1400.5,1032.9 L1402.5,1033.4 L1404.4,1033.9 L1406.4,1034.4 L1408.3,1034.8 L1410.3,1035.3 L1412.2,1035.8 L1414.2,1036.3 L1416.1,1036.8 L1418.1,1037.3 L1420.0,1037.7 L1422.0,1038.2 L1424.0,1038.7 L1425.9,1039.1 L1427.9,1039.6 L1429.8,1040.1 L1431.8,1040.5 L1433.7,1041.0 L1435.7,1041.4 L1437.7,1041.9 L1439.6,1042.3 L1441.6,1042.8 L1443.5,1043.2 L1445.5,1043.7 L1447.5,1044.1 L1449.4,1044.5 L1451.4,1045.0 L1453.3,1045.4 L1455.3,1045.8 L1457.3,1046.3 L1459.2,1046.7 L1461.2,1047.1 L1463.2,1047.5 L1465.1,1048.0 L1467.1,1048.4 L1469.1,1048.8 L1471.0,1049.2 L1473.0,1049.6 L1475.0,1050.0 L1476.9,1050.4 L1478.9,1050.8 L1480.9,1051.3 L1482.8,1051.7 L1484.8,1052.1 L1486.8,1052.5 L1488.8,1052.8 L1490.7,1053.2 L1492.7,1053.6 L1494.7,1054.0 L1496.6,1054.4 L1498.6,1054.8 L1500.6,1055.2 L1502.6,1055.6 L1504.5,1055.9 L1506.5,1056.3 L1508.5,1056.7 L1510.5,1057.1 L1512.4,1057.4 L1514.4,1057.8 L1516.4,1058.2 L1518.4,1058.5 L1520.3,1058.9 L1522.3,1059.3 L1524.3,1059.6 L1526.3,1060.0 L1528.3,1060.3 L1530.2,1060.7 L1532.2,1061.0 L1534.2,1061.4 L1536.2,1061.7 L1538.2,1062.1 L1540.1,1062.4 L1542.1,1062.7 L1544.1,1063.1 L1546.1,1063.4 L1548.1,1063.8 L1550.0,1064.1 L1552.0,1064.4 L1554.0,1064.7 L1556.0,1065.1 L1558.0,1065.4 L1560.0,1065.7 L1561.9,1066.0 L1563.9,1066.3 L1565.9,1066.7 L1567.9,1067.0 L1569.9,1067.3 L1571.9,1067.6 L1573.9,1067.9 L1575.8,1068.2 L1577.8,1068.5 L1579.8,1068.8 L1581.8,1069.1 L1583.8,1069.4 L1585.8,1069.7 L1587.8,1070.0 L1589.8,1070.3 L1591.8,1070.6 L1593.7,1070.8 L1595.7,1071.1 L1597.7,1071.4 L1599.7,1071.7 L1601.7,1072.0 L1603.7,1072.2 L1605.7,1072.5 L1607.7,1072.8 L1609.7,1073.0 L1611.7,1073.3 L1613.7,1073.6 L1615.6,1073.8 L1617.6,1074.1 L1619.6,1074.4 L1621.6,1074.6 L1623.6,1074.9 L1625.6,1075.1 L1627.6,1075.4 L1629.6,1075.6 L1631.6,1075.9 L1633.6,1076.1 L1635.6,1076.3 L1637.6,1076.6 L1639.6,1076.8 L1641.6,1077.1 L1643.6,1077.3 L1645.6,1077.5 L1647.6,1077.7 L1649.6,1078.0 L1651.6,1078.2 L1653.6,1078.4 L1655.6,1078.6 L1657.6,1078.9 L1659.6,1079.1 L1661.6,1079.3 L1663.6,1079.5 L1665.6,1079.7 L1667.6,1079.9 L1669.6,1080.1 L1671.6,1080.3 L1673.6,1080.5 L1675.6,1080.7 L1677.6,1080.9 L1679.6,1081.1 L1681.6,1081.3 L1683.6,1081.5 L1685.6,1081.7 L1687.6,1081.9 L1689.6,1082.0 L1691.6,1082.2 L1693.6,1082.4 L1695.6,1082.6 L1697.6,1082.8 L1699.6,1082.9 L1701.6,1083.1 L1703.6,1083.3 L1705.6,1083.4 L1707.6,1083.6 L1709.6,1083.8 L1711.6,1083.9 L1713.6,1084.1 L1715.6,1084.2 L1717.6,1084.4" fill="none" stroke="#8c55d6" stroke-width="4.1" stroke-linecap="round" stroke-linejoin="round"/>
<path d="M1093.0,701.6 L1093.0,703.6 L1093.1,705.6 L1093.2,707.6 L1093.2,709.6 L1093.3,711.6 L1093.4,713.6 L1093.5,715.6 L1093.7,717.6 L1093.8,719.6 L1094.0,721.6 L1094.2,723.6 L1094.4,725.6 L1094.6,727.6 L1094.8,729.6 L1095.0,731.6 L1095.3,733.6 L1095.6,735.6 L1095.9,737.6 L1096.2,739.6 L1096.5,741.5 L1096.9,743.5 L1097.3,745.5 L1097.7,747.4 L1098.1,749.4 L1098.5,751.4 L1099.0,753.3 L1099.4,755.3 L1099.9,757.2 L1100.5,759.2 L1101.0,761.1 L1101.6,763.0 L1102.1,764.9 L1102.7,766.8 L1103.3,768.8 L1104.0,770.7 L1104.6,772.6 L1105.3,774.4 L1106.0,776.3 L1106.7,778.2 L1107.5,780.1 L1108.2,781.9 L1109.0,783.8 L1109.8,785.6 L1110.6,787.5 L1111.4,789.3 L1112.2,791.1 L1113.1,792.9 L1114.0,794.7 L1114.8,796.5 L1115.7,798.3 L1116.7,800.1 L1117.6,801.9 L1118.5,803.7 L1119.5,805.4 L1120.5,807.2 L1121.5,808.9 L1122.5,810.7 L1123.5,812.4 L1124.5,814.1 L1125.6,815.8 L1126.6,817.5 L1127.7,819.2 L1128.8,820.9 L1129.9,822.6 L1131.0,824.3 L1132.1,825.9 L1133.2,827.6 L1134.4,829.2 L1135.5,830.9 L1136.7,832.5 L1137.9,834.1 L1139.1,835.7 L1140.3,837.4 L1141.5,838.9 L1142.7,840.5 L1144.0,842.1 L1145.2,843.7 L1146.5,845.2 L1147.7,846.8 L1149.0,848.3 L1150.3,849.9 L1151.6,851.4 L1152.9,852.9 L1154.2,854.4 L1155.6,855.9 L1156.9,857.4 L1158.2,858.9 L1159.6,860.4 L1161.0,861.9 L1162.3,863.3 L1163.7,864.8 L1165.1,866.2 L1166.5,867.7 L1167.9,869.1 L1169.4,870.5 L1170.8,871.9 L1172.2,873.3 L1173.7,874.7 L1175.1,876.1 L1176.6,877.5 L1178.0,878.8 L1179.5,880.2 L1181.0,881.6 L1182.5,882.9 L1184.0,884.2 L1185.5,885.6 L1187.0,886.9 L1188.5,888.2 L1190.1,889.5 L1191.6,890.8 L1193.1,892.1 L1194.7,893.3 L1196.2,894.6 L1197.8,895.9 L1199.4,897.1 L1200.9,898.4 L1202.5,899.6 L1204.1,900.8 L1205.7,902.0 L1207.3,903.3 L1208.9,904.5 L1210.5,905.7 L1212.1,906.8 L1213.8,908.0 L1215.4,909.2 L1217.0,910.4 L1218.7,911.5 L1220.3,912.7 L1222.0,913.8 L1223.6,914.9 L1225.3,916.1 L1226.9,917.2 L1228.6,918.3 L1230.3,919.4 L1232.0,920.5 L1233.7,921.5 L1235.4,922.6 L1237.1,923.7 L1238.8,924.7 L1240.5,925.8 L1242.2,926.8 L1243.9,927.9 L1245.6,928.9 L1247.4,929.9 L1249.1,930.9 L1250.8,932.0 L1252.6,933.0 L1254.3,933.9 L1256.1,934.9 L1257.8,935.9 L1259.6,936.9 L1261.3,937.8 L1263.1,938.8 L1264.9,939.7 L1266.6,940.7 L1268.4,941.6 L1270.2,942.5 L1272.0,943.5 L1273.8,944.4 L1275.5,945.3 L1277.3,946.2 L1279.1,947.1 L1280.9,948.0 L1282.7,948.8 L1284.5,949.7 L1286.4,950.6 L1288.2,951.4 L1290.0,952.3 L1291.8,953.1 L1293.6,954.0 L1295.5,954.8 L1297.3,955.6 L1299.1,956.5 L1300.9,957.3 L1302.8,958.1 L1304.6,958.9 L1306.5,959.7 L1308.3,960.5 L1310.2,961.2 L1312.0,962.0 L1313.9,962.8 L1315.7,963.6 L1317.6,964.3 L1319.4,965.1 L1321.3,965.8 L1323.1,966.6 L1325.0,967.3 L1326.9,968.1 L1328.7,968.8 L1330.6,969.5 L1332.5,970.2 L1334.4,970.9 L1336.2,971.7 L1338.1,972.4 L1340.0,973.1 L1341.9,973.7 L1343.8,974.4 L1345.7,975.1 L1347.5,975.8 L1349.4,976.5 L1351.3,977.1 L1353.2,977.8 L1355.1,978.5 L1357.0,979.1 L1358.9,979.8 L1360.8,980.4 L1362.7,981.1 L1364.6,981.7 L1366.5,982.3 L1368.4,983.0 L1370.3,983.6 L1372.2,984.2 L1374.1,984.8 L1376.0,985.5 L1378.0,986.1 L1379.9,986.7 L1381.8,987.3 L1383.7,987.9 L1385.6,988.5 L1387.5,989.1 L1389.4,989.7 L1391.4,990.2 L1393.3,990.8 L1395.2,991.4 L1397.1,992.0 L1399.1,992.6 L1401.0,993.1 L1402.9,993.7 L1404.8,994.3 L1406.8,994.8 L1408.7,995.4 L1410.6,995.9 L1412.5,996.5 L1414.5,997.0 L1416.4,997.6 L1418.3,998.1 L1420.3,998.7 L1422.2,999.2 L1424.1,999.8 L1426.1,1000.3 L1428.0,1000.8 L1429.9,1001.3 L1431.9,1001.9 L1433.8,1002.4 L1435.7,1002.9 L1437.7,1003.4 L1439.6,1004.0 L1441.6,1004.5 L1443.5,1005.0 L1445.4,1005.5 L1447.4,1006.0 L1449.3,1006.5 L1451.3,1007.0 L1453.2,1007.5 L1455.1,1008.0 L1457.1,1008.5 L1459.0,1009.0 L1461.0,1009.5 L1462.9,1010.0 L1464.9,1010.5 L1466.8,1011.0 L1468.8,1011.5 L1470.7,1011.9 L1472.7,1012.4 L1474.6,1012.9 L1476.6,1013.4 L1478.5,1013.8 L1480.5,1014.3 L1482.4,1014.8 L1484.4,1015.2 L1486.3,1015.7 L1488.3,1016.2 L1490.2,1016.6 L1492.2,1017.1 L1494.1,1017.5 L1496.1,1018.0 L1498.0,1018.4 L1500.0,1018.9 L1502.0,1019.3 L1503.9,1019.7 L1505.9,1020.2 L1507.8,1020.6 L1509.8,1021.1 L1511.7,1021.5 L1513.7,1021.9 L1515.7,1022.3 L1517.6,1022.8 L1519.6,1023.2 L1521.5,1023.6 L1523.5,1024.0 L1525.5,1024.5 L1527.4,1024.9 L1529.4,1025.3 L1531.4,1025.7 L1533.3,1026.1 L1535.3,1026.5 L1537.3,1026.9 L1539.2,1027.3 L1541.2,1027.7 L1543.2,1028.1 L1545.1,1028.5 L1547.1,1028.9 L1549.1,1029.3 L1551.0,1029.7 L1553.0,1030.1 L1555.0,1030.4 L1556.9,1030.8 L1558.9,1031.2 L1560.9,1031.6 L1562.9,1031.9 L1564.8,1032.3 L1566.8,1032.7 L1568.8,1033.1 L1570.7,1033.4 L1572.7,1033.8 L1574.7,1034.2 L1576.7,1034.5 L1578.6,1034.9 L1580.6,1035.2 L1582.6,1035.6 L1584.6,1035.9 L1586.5,1036.3 L1588.5,1036.6 L1590.5,1037.0 L1592.5,1037.3 L1594.4,1037.7 L1596.4,1038.0 L1598.4,1038.3 L1600.4,1038.7 L1602.4,1039.0 L1604.3,1039.3 L1606.3,1039.7 L1608.3,1040.0 L1610.3,1040.3 L1612.3,1040.6 L1614.2,1041.0 L1616.2,1041.3 L1618.2,1041.6 L1620.2,1041.9 L1622.2,1042.2 L1624.1,1042.5 L1626.1,1042.8 L1628.1,1043.1 L1630.1,1043.5 L1632.1,1043.8 L1634.1,1044.1 L1636.0,1044.4 L1638.0,1044.7 L1640.0,1044.9 L1642.0,1045.2 L1644.0,1045.5 L1646.0,1045.8 L1647.9,1046.1 L1649.9,1046.4 L1651.9,1046.7 L1653.9,1047.0 L1655.9,1047.2 L1657.9,1047.5 L1659.9,1047.8 L1661.9,1048.1 L1663.8,1048.3 L1665.8,1048.6 L1667.8,1048.9 L1669.8,1049.1 L1671.8,1049.4 L1673.8,1049.7 L1675.8,1049.9 L1677.8,1050.2 L1679.8,1050.4 L1681.7,1050.7 L1683.7,1051.0 L1685.7,1051.2 L1687.7,1051.5 L1689.7,1051.7 L1691.7,1052.0 L1693.7,1052.2 L1695.7,1052.4 L1697.7,1052.7 L1699.7,1052.9 L1701.7,1053.2 L1703.7,1053.4 L1705.6,1053.6 L1707.6,1053.9 L1709.6,1054.1 L1711.6,1054.3 L1713.6,1054.5 L1715.6,1054.8 L1717.6,1055.0" fill="none" stroke="#b08a1e" stroke-width="4.1" stroke-linecap="round" stroke-linejoin="round"/>
<path d="M1092.60,1164.80V1149.80M1155.30,1164.80V1158.80M1218.00,1164.80V1149.80M1280.70,1164.80V1158.80M1343.40,1164.80V1149.80M1406.10,1164.80V1158.80M1468.80,1164.80V1149.80M1531.50,1164.80V1158.80M1594.20,1164.80V1149.80M1656.90,1164.80V1158.80M1077.05,1142.70H1092.05M1077.05,1000.80H1092.05M1077.05,858.90H1092.05M1077.05,717.00H1092.05M1077.05,1071.75H1083.05M1077.05,929.85H1083.05M1077.05,787.95H1083.05" stroke="#000" stroke-width="3.4" fill="none"/>
<rect x="1077.05" y="646.9" width="642.45" height="517.90" fill="none" stroke="#000" stroke-width="3.6"/>
<text x="1060.6" y="1158.5" font-size="52" text-anchor="end">0.000</text>
<text x="1060.6" y="1016.6" font-size="52" text-anchor="end">−0.003</text>
<text x="1060.6" y="874.7" font-size="52" text-anchor="end">−0.006</text>
<text x="1060.6" y="732.8" font-size="52" text-anchor="end">−0.009</text>
<text x="1092.6" y="1221.5" font-size="52" text-anchor="middle">0</text>
<text x="1218.0" y="1221.5" font-size="52" text-anchor="middle">20</text>
<text x="1343.4" y="1221.5" font-size="52" text-anchor="middle">40</text>
<text x="1468.8" y="1221.5" font-size="52" text-anchor="middle">60</text>
<text x="1594.2" y="1221.5" font-size="52" text-anchor="middle">80</text>
<text x="1330.7" y="1285.2" font-size="52">Time (s)</text>
<text transform="translate(903.2,999.3) rotate(-90)" font-size="51">(ΔG (μS)</text>
<text x="1156.8" y="732.2" font-size="52">(d)</text>
<text x="1411.2" y="907.9" font-size="59.5">90°</text>
<text x="390.1" y="48.3" font-size="51.3">Pulse Number</text>
<path d="M397.8,94.0H451.9" stroke="#3d3d3d" stroke-width="3.6" stroke-linecap="round"/>
<text x="496.5" y="110.8" font-size="52" text-anchor="middle">1</text>
<path d="M543.0,94.0H596.9" stroke="#c1303a" stroke-width="3.6" stroke-linecap="round"/>
<text x="642.2" y="110.8" font-size="52" text-anchor="middle">2</text>
<path d="M701.2,94.0H755.1" stroke="#3b4bd0" stroke-width="3.6" stroke-linecap="round"/>
<text x="799.4" y="110.8" font-size="52" text-anchor="middle">5</text>
<path d="M397.8,157.0H451.9" stroke="#519b56" stroke-width="3.6" stroke-linecap="round"/>
<text x="496.5" y="174.0" font-size="52" text-anchor="middle">10</text>
<path d="M543.0,157.0H596.9" stroke="#8c55d6" stroke-width="3.6" stroke-linecap="round"/>
<text x="642.2" y="174.0" font-size="52" text-anchor="middle">17</text>
<path d="M701.2,157.0H755.1" stroke="#b08a1e" stroke-width="3.6" stroke-linecap="round"/>
<text x="799.4" y="174.0" font-size="52" text-anchor="middle">26</text>
</svg></body></html>
